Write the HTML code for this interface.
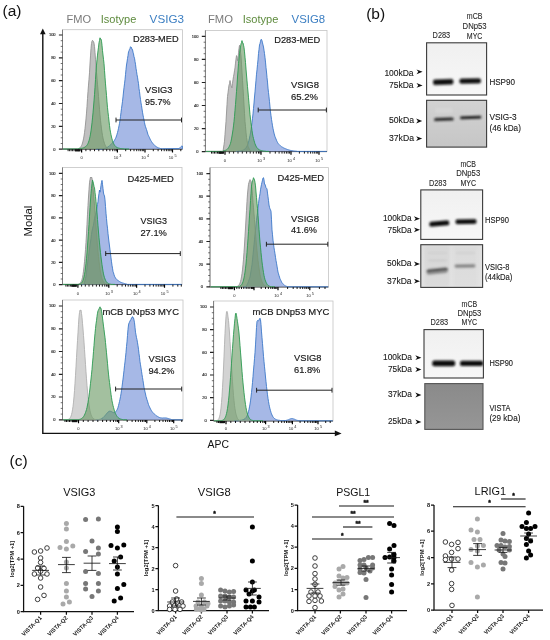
<!DOCTYPE html>
<html lang="en"><head><meta charset="utf-8"><title>Figure</title>
<style>
html,body{margin:0;padding:0;background:#fff;}
svg{display:block;filter:blur(0.3px);font-family:'Liberation Sans', sans-serif;}
</style></head>
<body>
<svg width="550" height="640" viewBox="0 0 550 640">
<defs>
<filter id="bl" x="-20%" y="-100%" width="140%" height="300%"><feGaussianBlur stdDeviation="1.15"/></filter>
<linearGradient id="g1" x1="0" y1="0" x2="0" y2="1"><stop offset="0" stop-color="#f0f0f0"/><stop offset="1" stop-color="#f7f7f7"/></linearGradient>
<linearGradient id="g2" x1="0" y1="0" x2="0" y2="1"><stop offset="0" stop-color="#d2d2d2"/><stop offset="1" stop-color="#c6c6c6"/></linearGradient>
<linearGradient id="g4" x1="0" y1="0" x2="0" y2="1"><stop offset="0" stop-color="#dedede"/><stop offset="1" stop-color="#e2e2e2"/></linearGradient>
<linearGradient id="g6" x1="0" y1="0" x2="0" y2="1"><stop offset="0" stop-color="#8a8a8a"/><stop offset="1" stop-color="#969696"/></linearGradient>
</defs>
<rect width="550" height="640" fill="#fff"/>
<text x="2.5" y="15.9" font-size="15.5" fill="#111">(a)</text>
<text x="66.4" y="23.4" font-size="11.2" fill="#7a7a7a" textLength="24.6" lengthAdjust="spacingAndGlyphs">FMO</text>
<text x="100.7" y="23.4" font-size="11.2" fill="#5d8a3c" textLength="35.6" lengthAdjust="spacingAndGlyphs">Isotype</text>
<text x="149.6" y="23.4" font-size="11.2" fill="#3b7ec2" textLength="34.4" lengthAdjust="spacingAndGlyphs">VSIG3</text>
<text x="208.0" y="23.4" font-size="11.2" fill="#7a7a7a" textLength="25" lengthAdjust="spacingAndGlyphs">FMO</text>
<text x="242.7" y="23.4" font-size="11.2" fill="#5d8a3c" textLength="35.7" lengthAdjust="spacingAndGlyphs">Isotype</text>
<text x="291.6" y="23.4" font-size="11.2" fill="#3b7ec2" textLength="33.6" lengthAdjust="spacingAndGlyphs">VSIG8</text>
<rect x="62.5" y="29.7" width="120.0" height="119.5" fill="#fff" stroke="#c4c4c4" stroke-width="0.8"/>
<path d="M62.5,149.2H182.5" fill="none" stroke="#333" stroke-width="0.9"/>
<path d="M96.0,149.0L103.0,149.0L103.5,148.7L104.0,148.7L104.5,148.5L105.0,148.4L105.5,148.2L106.0,148.1L106.5,147.8L107.0,147.6L107.5,147.2L108.0,146.9L108.5,146.5L109.0,146.2L109.5,145.7L110.0,145.2L110.5,144.8L111.0,144.3L111.5,143.7L112.0,143.2L112.5,142.8L113.0,142.3L113.5,141.7L114.0,141.0L114.5,140.2L115.0,139.3L115.5,138.4L116.0,137.3L116.5,135.9L117.0,134.3L117.5,132.5L118.0,130.6L118.5,128.3L119.0,125.9L119.5,123.4L120.0,120.3L120.5,116.6L121.0,112.4L121.5,108.5L122.0,105.0L122.5,101.3L123.0,96.9L123.5,92.0L124.0,87.7L124.5,83.8L125.0,79.7L125.5,74.7L126.0,69.4L126.5,65.0L127.0,62.0L127.5,58.5L128.0,55.5L128.5,51.9L129.0,50.9L129.5,49.3L130.0,48.5L130.5,46.7L131.0,47.4L131.5,47.5L132.0,49.6L132.5,49.5L133.0,52.2L133.5,53.9L134.0,56.8L134.5,58.2L135.0,61.4L135.5,64.3L136.0,68.3L136.5,71.3L137.0,74.7L137.5,77.2L138.0,80.6L138.5,83.7L139.0,88.5L139.5,91.6L140.0,95.9L140.5,99.4L141.0,102.9L141.5,105.6L142.0,108.9L142.5,112.2L143.0,115.1L143.5,117.5L144.0,120.0L144.5,122.7L145.0,125.0L145.5,126.7L146.0,128.1L146.5,129.5L147.0,131.1L147.5,133.0L148.0,134.6L148.5,135.7L149.0,136.7L149.5,137.7L150.0,138.9L150.5,139.9L151.0,140.8L151.5,141.5L152.0,142.3L152.5,143.0L153.0,143.6L153.5,144.2L154.0,144.8L154.5,145.3L155.0,145.7L155.5,146.1L156.0,146.5L156.5,146.8L157.0,147.1L157.5,147.4L158.0,147.7L158.5,147.9L159.0,148.1L159.5,148.2L160.0,148.3L160.5,148.5L161.0,148.6L161.5,148.6L162.0,148.7L162.5,148.8L179.0,148.6L179.5,148.2L180.0,147.8L180.5,147.2L181.0,146.6L181.5,146.2L182.0,146.0L182.5,146.2L182.2,149.0L182.2,149.0" fill="#6a88d6" fill-opacity="0.6" stroke="#3c78c8" stroke-width="0.9" stroke-linejoin="round"/>
<path d="M63.0,149.0L77.5,149.0L78.0,148.7L78.5,148.6L79.0,148.4L79.5,148.1L80.0,147.8L80.5,147.2L81.0,146.5L81.5,145.6L82.0,144.5L82.5,143.0L83.0,141.1L83.5,138.9L84.0,136.1L84.5,132.7L85.0,128.6L85.5,124.0L86.0,118.9L86.5,113.1L87.0,106.4L87.5,98.6L88.0,91.4L88.5,85.1L89.0,79.2L89.5,72.8L90.0,64.0L90.5,55.9L91.0,48.5L91.5,43.5L92.0,41.2L92.5,40.3L93.0,41.0L93.5,41.5L94.0,43.2L94.5,46.6L95.0,52.4L95.5,59.2L96.0,66.0L96.5,72.3L97.0,78.2L97.5,84.2L98.0,90.0L98.5,96.6L99.0,102.9L99.5,109.3L100.0,114.9L100.5,120.3L101.0,124.6L101.5,128.9L102.0,132.3L102.5,135.5L103.0,138.1L103.5,140.3L104.0,142.0L104.5,143.5L105.0,144.8L105.5,145.9L106.0,146.6L106.5,147.2L107.0,147.7L107.5,148.0L108.0,148.3L108.5,148.5L109.0,148.6L109.5,148.8L110.0,149.0L115.0,149.0" fill="#8c8c8c" fill-opacity="0.55" stroke="#939393" stroke-width="0.9" stroke-linejoin="round"/>
<path d="M63.0,149.0L77.5,149.0L78.0,148.7L78.5,148.7L79.0,148.6L79.5,148.6L80.0,148.5L80.5,148.4L81.0,148.4L81.5,148.3L82.0,148.2L82.5,148.1L83.0,147.9L83.5,147.8L84.0,147.6L84.5,147.3L85.0,147.0L85.5,146.7L86.0,146.2L86.5,145.7L87.0,145.1L87.5,144.4L88.0,143.4L88.5,142.2L89.0,140.7L89.5,138.9L90.0,136.7L90.5,134.1L91.0,130.9L91.5,127.0L92.0,122.8L92.5,117.9L93.0,112.9L93.5,107.0L94.0,100.9L94.5,94.6L95.0,87.3L95.5,79.5L96.0,71.5L96.5,65.1L97.0,59.8L97.5,55.1L98.0,50.9L98.5,47.2L99.0,42.8L99.5,40.5L100.0,37.8L100.5,39.0L101.0,39.0L101.5,41.2L102.0,45.2L102.5,50.7L103.0,55.0L103.5,59.3L104.0,63.5L104.5,70.4L105.0,77.2L105.5,83.9L106.0,89.5L106.5,95.4L107.0,101.8L107.5,107.7L108.0,112.2L108.5,116.5L109.0,121.1L109.5,125.4L110.0,129.2L110.5,132.2L111.0,134.7L111.5,137.0L112.0,138.9L112.5,140.7L113.0,142.1L113.5,143.3L114.0,144.3L114.5,145.1L115.0,145.8L115.5,146.3L116.0,146.8L116.5,147.2L117.0,147.4L117.5,147.7L118.0,147.9L118.5,148.0L119.0,148.2L119.5,148.3L120.0,148.4L120.5,148.5L121.0,148.6L121.5,148.6L122.0,148.7L122.5,148.7L123.0,148.8L123.5,148.8L124.0,149.0L129.0,149.0" fill="#6a9a64" fill-opacity="0.62" stroke="#2a9a50" stroke-width="0.9" stroke-linejoin="round"/>
<path d="M62.5,29.7V149.2" fill="none" stroke="#666" stroke-width="0.8"/>
<path d="M58.9,35.0H62.5M58.9,57.8H62.5M58.9,80.7H62.5M58.9,103.5H62.5M58.9,126.4H62.5M58.9,149.2H62.5" stroke="#222" stroke-width="1.2" fill="none"/>
<path d="M60.7,40.7H62.5M60.7,46.4H62.5M60.7,52.1H62.5M60.7,63.5H62.5M60.7,69.3H62.5M60.7,75.0H62.5M60.7,86.4H62.5M60.7,92.1H62.5M60.7,97.8H62.5M60.7,109.2H62.5M60.7,114.9H62.5M60.7,120.6H62.5M60.7,132.1H62.5M60.7,137.8H62.5M60.7,143.5H62.5" stroke="#333" stroke-width="0.7" fill="none"/>
<text x="55.6" y="36.4" font-size="4.0" fill="#2a2a2a" text-anchor="end" stroke="#2a2a2a" stroke-width="0.15">100</text>
<text x="55.6" y="59.2" font-size="4.0" fill="#2a2a2a" text-anchor="end" stroke="#2a2a2a" stroke-width="0.15">80</text>
<text x="55.6" y="82.1" font-size="4.0" fill="#2a2a2a" text-anchor="end" stroke="#2a2a2a" stroke-width="0.15">60</text>
<text x="55.6" y="104.9" font-size="4.0" fill="#2a2a2a" text-anchor="end" stroke="#2a2a2a" stroke-width="0.15">40</text>
<text x="55.6" y="127.8" font-size="4.0" fill="#2a2a2a" text-anchor="end" stroke="#2a2a2a" stroke-width="0.15">20</text>
<text x="55.6" y="150.6" font-size="4.0" fill="#2a2a2a" text-anchor="end" stroke="#2a2a2a" stroke-width="0.15">0</text>
<path d="M81.6,149.2v3.2M117.4,149.2v3.2M145.0,149.2v3.2M172.5,149.2v3.2" stroke="#000" stroke-width="1.2" fill="none"/>
<path d="M85.9,149.2v2M90.2,149.2v2M94.5,149.2v2M98.8,149.2v2M103.1,149.2v2M106.7,149.2v2M109.9,149.2v2M112.7,149.2v2M114.9,149.2v2M116.3,149.2v2M125.7,149.2v2M130.6,149.2v2M134.0,149.2v2M136.7,149.2v2M138.9,149.2v2M140.7,149.2v2M142.3,149.2v2M143.7,149.2v2M153.3,149.2v2M158.1,149.2v2M161.6,149.2v2M164.2,149.2v2M166.4,149.2v2M168.2,149.2v2M169.8,149.2v2M171.2,149.2v2M180.8,149.2v2M80.1,149.2v2M78.6,149.2v2M77.1,149.2v2M75.6,149.2v2M74.1,149.2v2M72.6,149.2v2M71.1,149.2v2M69.6,149.2v2M68.1,149.2v2" stroke="#000" stroke-width="0.9" fill="none"/>
<rect x="75.1" y="149.2" width="5" height="2.2" fill="#111"/>
<text x="81.6" y="159.3" font-size="4.1" fill="#222" text-anchor="middle">0</text>
<text x="117.6" y="159.3" font-size="4.1" fill="#222" text-anchor="middle">10<tspan dx="1" dy="-2" font-size="3.8">3</tspan></text>
<text x="145.2" y="159.3" font-size="4.1" fill="#222" text-anchor="middle">10<tspan dx="1" dy="-2" font-size="3.8">4</tspan></text>
<text x="172.7" y="159.3" font-size="4.1" fill="#222" text-anchor="middle">10<tspan dx="1" dy="-2" font-size="3.8">5</tspan></text>
<path d="M116,120H181.5M116,117.6v4.8M181.5,117.6v4.8" stroke="#222" stroke-width="1" fill="none"/>
<text x="133.0" y="41.5" font-size="9.5" fill="#1a1a1a" textLength="45.6" lengthAdjust="spacingAndGlyphs" stroke="#1a1a1a" stroke-width="0.18">D283-MED</text>
<text x="145.0" y="93.0" font-size="9.5" fill="#1a1a1a" textLength="27.4" lengthAdjust="spacingAndGlyphs" stroke="#1a1a1a" stroke-width="0.18">VSIG3</text>
<text x="145.0" y="105.0" font-size="9.5" fill="#1a1a1a" textLength="25.6" lengthAdjust="spacingAndGlyphs" stroke="#1a1a1a" stroke-width="0.18">95.7%</text>
<rect x="205.4" y="30.4" width="121.6" height="121.2" fill="#fff" stroke="#c4c4c4" stroke-width="0.8"/>
<path d="M205.4,151.6H327" fill="none" stroke="#333" stroke-width="0.9"/>
<path d="M236.0,151.4L237.5,151.4L238.0,151.2L238.5,151.1L239.0,151.1L239.5,151.0L240.0,151.0L240.5,150.9L241.0,150.8L241.5,150.7L242.0,150.6L242.5,150.4L243.0,150.2L243.5,150.0L244.0,149.7L244.5,149.3L245.0,148.9L245.5,148.4L246.0,147.8L246.5,147.0L247.0,146.1L247.5,145.1L248.0,143.8L248.5,142.2L249.0,140.2L249.5,138.1L250.0,135.6L250.5,132.9L251.0,129.8L251.5,126.4L252.0,122.7L252.5,118.3L253.0,113.8L253.5,108.4L254.0,103.0L254.5,97.0L255.0,91.9L255.5,86.1L256.0,80.2L256.5,74.2L257.0,69.8L257.5,64.6L258.0,59.9L258.5,53.5L259.0,49.5L259.5,45.0L260.0,43.5L260.5,41.3L261.0,39.4L261.5,39.5L262.0,40.8L262.5,42.9L263.0,44.9L263.5,47.0L264.0,50.2L264.5,53.6L265.0,57.6L265.5,62.1L266.0,67.5L266.5,72.0L267.0,77.4L267.5,82.1L268.0,88.1L268.5,92.5L269.0,96.9L269.5,101.7L270.0,106.9L270.5,111.9L271.0,115.6L271.5,119.4L272.0,122.4L272.5,125.8L273.0,128.4L273.5,130.9L274.0,133.1L274.5,135.0L275.0,136.6L275.5,137.9L276.0,139.0L276.5,140.3L277.0,141.4L277.5,142.4L278.0,143.2L278.5,143.9L279.0,144.4L279.5,144.9L280.0,145.4L280.5,145.9L281.0,146.3L281.5,146.7L282.0,147.0L282.5,147.2L283.0,147.5L283.5,147.8L284.0,148.1L284.5,148.3L285.0,148.5L285.5,148.7L286.0,148.9L286.5,149.1L287.0,149.3L287.5,149.5L288.0,149.7L288.5,149.8L289.0,150.0L289.5,150.1L290.0,150.2L290.5,150.4L291.0,150.5L291.5,150.6L292.0,150.7L292.5,150.7L293.0,150.8L293.5,150.9L294.0,151.0L294.5,151.0L295.0,151.1L295.5,151.1L296.0,151.2L296.5,151.2L297.0,151.4L326.7,151.4" fill="#6a88d6" fill-opacity="0.6" stroke="#3c78c8" stroke-width="0.9" stroke-linejoin="round"/>
<path d="M205.9,151.4L223.0,151.4L223.5,148.0L224.0,144.7L224.5,141.2L225.0,134.4L225.5,128.0L226.0,121.6L226.5,113.0L227.0,104.7L227.5,96.5L228.0,92.9L228.5,88.8L229.0,85.2L229.5,83.7L230.0,80.5L230.5,82.8L231.0,85.2L231.5,87.1L232.0,87.9L232.5,83.3L233.0,79.6L233.5,76.6L234.0,74.1L234.5,70.8L235.0,67.9L235.5,63.1L236.0,59.1L236.5,55.6L237.0,56.6L237.5,60.7L238.0,58.8L238.5,52.8L239.0,48.5L239.5,45.3L240.0,47.8L240.5,52.1L241.0,56.0L241.5,64.1L242.0,72.1L242.5,80.4L243.0,88.2L243.5,96.2L244.0,105.0L244.5,113.3L245.0,121.5L245.5,126.7L246.0,132.2L246.5,137.4L247.0,140.3L247.5,143.2L248.0,146.3L248.5,147.3L249.0,148.4L249.5,149.4L250.0,150.4L250.5,150.7L251.0,150.9L251.5,151.1L252.0,151.4L256.0,151.4" fill="#8c8c8c" fill-opacity="0.55" stroke="#939393" stroke-width="0.9" stroke-linejoin="round"/>
<path d="M205.9,151.4L222.5,151.4L223.0,150.9L223.5,150.8L224.0,150.7L224.5,150.6L225.0,150.4L225.5,150.3L226.0,150.0L226.5,149.8L227.0,149.4L227.5,149.0L228.0,148.5L228.5,147.8L229.0,146.9L229.5,145.9L230.0,144.7L230.5,143.3L231.0,141.3L231.5,138.9L232.0,136.0L232.5,133.0L233.0,129.7L233.5,125.9L234.0,121.5L234.5,116.4L235.0,110.3L235.5,104.4L236.0,97.9L236.5,91.4L237.0,85.0L237.5,77.0L238.0,70.9L238.5,63.7L239.0,58.9L239.5,53.6L240.0,49.9L240.5,47.1L241.0,43.9L241.5,42.5L242.0,40.6L242.5,42.9L243.0,42.9L243.5,45.2L244.0,47.4L244.5,51.9L245.0,57.2L245.5,62.4L246.0,69.1L246.5,75.0L247.0,80.8L247.5,86.7L248.0,92.0L248.5,97.8L249.0,103.2L249.5,109.1L250.0,114.5L250.5,119.1L251.0,122.9L251.5,126.8L252.0,130.5L252.5,133.9L253.0,136.4L253.5,138.5L254.0,140.4L254.5,142.2L255.0,143.8L255.5,145.0L256.0,146.1L256.5,147.0L257.0,147.8L257.5,148.3L258.0,148.9L258.5,149.3L259.0,149.7L259.5,149.9L260.0,150.1L260.5,150.3L261.0,150.5L261.5,150.6L262.0,150.8L262.5,150.8L263.0,150.9L263.5,151.0L264.0,151.0L264.5,151.1L265.0,151.1L265.5,151.2L266.0,151.4L269.0,151.4" fill="#6a9a64" fill-opacity="0.62" stroke="#2a9a50" stroke-width="0.9" stroke-linejoin="round"/>
<path d="M205.4,30.4V151.6" fill="none" stroke="#666" stroke-width="0.8"/>
<path d="M201.8,36.4H205.4M201.8,59.4H205.4M201.8,82.5H205.4M201.8,105.5H205.4M201.8,128.6H205.4M201.8,151.6H205.4" stroke="#222" stroke-width="1.2" fill="none"/>
<path d="M203.6,42.2H205.4M203.6,47.9H205.4M203.6,53.7H205.4M203.6,65.2H205.4M203.6,71.0H205.4M203.6,76.7H205.4M203.6,88.2H205.4M203.6,94.0H205.4M203.6,99.8H205.4M203.6,111.3H205.4M203.6,117.0H205.4M203.6,122.8H205.4M203.6,134.3H205.4M203.6,140.1H205.4M203.6,145.8H205.4" stroke="#333" stroke-width="0.7" fill="none"/>
<text x="198.5" y="37.8" font-size="4.0" fill="#2a2a2a" text-anchor="end" stroke="#2a2a2a" stroke-width="0.15">100</text>
<text x="198.5" y="60.8" font-size="4.0" fill="#2a2a2a" text-anchor="end" stroke="#2a2a2a" stroke-width="0.15">80</text>
<text x="198.5" y="83.9" font-size="4.0" fill="#2a2a2a" text-anchor="end" stroke="#2a2a2a" stroke-width="0.15">60</text>
<text x="198.5" y="106.9" font-size="4.0" fill="#2a2a2a" text-anchor="end" stroke="#2a2a2a" stroke-width="0.15">40</text>
<text x="198.5" y="130.0" font-size="4.0" fill="#2a2a2a" text-anchor="end" stroke="#2a2a2a" stroke-width="0.15">20</text>
<text x="198.5" y="153.0" font-size="4.0" fill="#2a2a2a" text-anchor="end" stroke="#2a2a2a" stroke-width="0.15">0</text>
<path d="M225.0,151.6v3.2M261.0,151.6v3.2M291.0,151.6v3.2M319.0,151.6v3.2" stroke="#000" stroke-width="1.2" fill="none"/>
<path d="M229.3,151.6v2M233.6,151.6v2M238.0,151.6v2M242.3,151.6v2M246.6,151.6v2M250.2,151.6v2M253.4,151.6v2M256.3,151.6v2M258.5,151.6v2M259.9,151.6v2M270.0,151.6v2M275.3,151.6v2M279.1,151.6v2M282.0,151.6v2M284.3,151.6v2M286.4,151.6v2M288.1,151.6v2M289.6,151.6v2M299.4,151.6v2M304.4,151.6v2M307.9,151.6v2M310.6,151.6v2M312.8,151.6v2M314.7,151.6v2M316.3,151.6v2M317.7,151.6v2M223.5,151.6v2M222.0,151.6v2M220.5,151.6v2M219.0,151.6v2M217.5,151.6v2M216.0,151.6v2M214.5,151.6v2M213.0,151.6v2M211.5,151.6v2" stroke="#000" stroke-width="0.9" fill="none"/>
<rect x="218.5" y="151.6" width="5" height="2.2" fill="#111"/>
<text x="225.0" y="161.8" font-size="4.1" fill="#222" text-anchor="middle">0</text>
<text x="261.2" y="161.8" font-size="4.1" fill="#222" text-anchor="middle">10<tspan dx="1" dy="-2" font-size="3.8">3</tspan></text>
<text x="291.2" y="161.8" font-size="4.1" fill="#222" text-anchor="middle">10<tspan dx="1" dy="-2" font-size="3.8">4</tspan></text>
<text x="319.2" y="161.8" font-size="4.1" fill="#222" text-anchor="middle">10<tspan dx="1" dy="-2" font-size="3.8">5</tspan></text>
<path d="M258.2,110H326.4M258.2,107.6v4.8M326.4,107.6v4.8" stroke="#222" stroke-width="1" fill="none"/>
<text x="274.2" y="43.4" font-size="9.5" fill="#1a1a1a" textLength="46" lengthAdjust="spacingAndGlyphs" stroke="#1a1a1a" stroke-width="0.18">D283-MED</text>
<text x="291.0" y="88.0" font-size="9.5" fill="#1a1a1a" textLength="28" lengthAdjust="spacingAndGlyphs" stroke="#1a1a1a" stroke-width="0.18">VSIG8</text>
<text x="291.0" y="99.6" font-size="9.5" fill="#1a1a1a" textLength="27" lengthAdjust="spacingAndGlyphs" stroke="#1a1a1a" stroke-width="0.18">65.2%</text>
<rect x="62.5" y="167.5" width="119.5" height="117.1" fill="#fff" stroke="#c4c4c4" stroke-width="0.8"/>
<path d="M62.5,284.6H182" fill="none" stroke="#333" stroke-width="0.9"/>
<path d="M81.0,284.4L84.0,284.4L84.5,282.4L85.0,280.4L85.5,278.4L86.0,276.4L86.5,272.3L87.0,268.1L87.5,264.0L88.0,260.0L88.5,256.5L89.0,252.7L89.5,248.9L90.0,244.9L90.5,242.0L91.0,238.3L91.5,234.4L92.0,231.1L92.5,228.8L93.0,226.7L93.5,225.2L94.0,221.5L94.5,218.8L95.0,216.1L95.5,214.9L96.0,212.4L96.5,210.2L97.0,207.2L97.5,204.5L98.0,201.6L98.5,197.0L99.0,193.4L99.5,190.0L100.0,192.2L100.5,189.5L101.0,185.4L101.5,182.4L102.0,180.4L102.5,184.3L103.0,188.6L103.5,193.0L104.0,194.9L104.5,196.0L105.0,199.8L105.5,206.4L106.0,213.2L106.5,218.6L107.0,224.1L107.5,228.2L108.0,233.4L108.5,238.0L109.0,242.0L109.5,246.0L110.0,249.8L110.5,253.9L111.0,257.8L111.5,261.8L112.0,265.3L112.5,268.2L113.0,271.4L113.5,272.8L114.0,274.6L114.5,276.2L115.0,277.1L115.5,277.9L116.0,278.8L116.5,279.3L117.0,279.7L117.5,280.1L118.0,280.4L118.5,280.8L119.0,281.1L119.5,281.5L120.0,281.9L120.5,282.1L121.0,282.2L121.5,282.5L122.0,282.7L122.5,282.9L123.0,283.1L123.5,283.2L124.0,283.4L124.5,283.5L125.0,283.6L125.5,283.8L126.0,283.9L126.5,284.0L127.0,284.1L127.5,284.4L181.7,284.4" fill="#6a88d6" fill-opacity="0.6" stroke="#3c78c8" stroke-width="0.9" stroke-linejoin="round"/>
<path d="M63.0,284.4L78.0,284.4L78.5,284.1L79.0,283.9L79.5,283.7L80.0,283.3L80.5,282.7L81.0,281.9L81.5,280.8L82.0,279.4L82.5,277.4L83.0,274.7L83.5,271.1L84.0,266.8L84.5,261.7L85.0,255.8L85.5,249.5L86.0,242.4L86.5,233.9L87.0,224.3L87.5,214.2L88.0,205.5L88.5,197.0L89.0,189.7L89.5,182.8L90.0,179.4L90.5,177.1L91.0,177.8L91.5,177.0L92.0,178.3L92.5,181.7L93.0,187.7L93.5,194.2L94.0,199.9L94.5,205.2L95.0,211.8L95.5,218.3L96.0,226.0L96.5,232.8L97.0,240.0L97.5,245.9L98.0,251.7L98.5,256.5L99.0,261.1L99.5,265.3L100.0,269.1L100.5,272.2L101.0,274.6L101.5,276.7L102.0,278.5L102.5,279.9L103.0,281.0L103.5,281.9L104.0,282.5L104.5,283.0L105.0,283.4L105.5,283.7L106.0,283.9L106.5,284.1L107.0,284.2L107.5,284.4L113.0,284.4" fill="#8c8c8c" fill-opacity="0.55" stroke="#939393" stroke-width="0.9" stroke-linejoin="round"/>
<path d="M63.0,284.4L79.0,284.4L79.5,284.1L80.0,284.0L80.5,283.8L81.0,283.4L81.5,283.0L82.0,282.4L82.5,281.6L83.0,280.4L83.5,278.9L84.0,277.0L84.5,274.6L85.0,271.7L85.5,267.9L86.0,263.5L86.5,258.7L87.0,253.0L87.5,245.9L88.0,239.0L88.5,231.6L89.0,224.4L89.5,216.2L90.0,207.6L90.5,200.0L91.0,193.4L91.5,188.4L92.0,183.4L92.5,180.1L93.0,181.6L93.5,183.9L94.0,186.4L94.5,187.8L95.0,192.4L95.5,196.7L96.0,201.5L96.5,206.9L97.0,212.9L97.5,219.5L98.0,225.7L98.5,232.0L99.0,237.7L99.5,242.9L100.0,248.0L100.5,252.6L101.0,256.9L101.5,261.0L102.0,264.7L102.5,268.1L103.0,271.2L103.5,273.9L104.0,276.0L104.5,277.6L105.0,279.0L105.5,280.2L106.0,281.2L106.5,281.9L107.0,282.5L107.5,283.0L108.0,283.4L108.5,283.6L109.0,283.8L109.5,284.0L110.0,284.1L110.5,284.2L111.0,284.4L115.0,284.4" fill="#6a9a64" fill-opacity="0.62" stroke="#2a9a50" stroke-width="0.9" stroke-linejoin="round"/>
<path d="M62.5,167.5V284.6" fill="none" stroke="#666" stroke-width="0.8"/>
<path d="M58.9,173.4H62.5M58.9,195.6H62.5M58.9,217.9H62.5M58.9,240.1H62.5M58.9,262.4H62.5M58.9,284.6H62.5" stroke="#222" stroke-width="1.2" fill="none"/>
<path d="M60.7,179.0H62.5M60.7,184.5H62.5M60.7,190.1H62.5M60.7,201.2H62.5M60.7,206.8H62.5M60.7,212.3H62.5M60.7,223.4H62.5M60.7,229.0H62.5M60.7,234.6H62.5M60.7,245.7H62.5M60.7,251.2H62.5M60.7,256.8H62.5M60.7,267.9H62.5M60.7,273.5H62.5M60.7,279.0H62.5" stroke="#333" stroke-width="0.7" fill="none"/>
<text x="55.6" y="174.8" font-size="4.0" fill="#2a2a2a" text-anchor="end" stroke="#2a2a2a" stroke-width="0.15">100</text>
<text x="55.6" y="197.0" font-size="4.0" fill="#2a2a2a" text-anchor="end" stroke="#2a2a2a" stroke-width="0.15">80</text>
<text x="55.6" y="219.3" font-size="4.0" fill="#2a2a2a" text-anchor="end" stroke="#2a2a2a" stroke-width="0.15">60</text>
<text x="55.6" y="241.5" font-size="4.0" fill="#2a2a2a" text-anchor="end" stroke="#2a2a2a" stroke-width="0.15">40</text>
<text x="55.6" y="263.8" font-size="4.0" fill="#2a2a2a" text-anchor="end" stroke="#2a2a2a" stroke-width="0.15">20</text>
<text x="55.6" y="286.0" font-size="4.0" fill="#2a2a2a" text-anchor="end" stroke="#2a2a2a" stroke-width="0.15">0</text>
<path d="M77.9,284.6v3.2M108.8,284.6v3.2M136.6,284.6v3.2M164.5,284.6v3.2" stroke="#000" stroke-width="1.2" fill="none"/>
<path d="M81.6,284.6v2M85.3,284.6v2M89.0,284.6v2M92.7,284.6v2M96.4,284.6v2M99.5,284.6v2M102.3,284.6v2M104.8,284.6v2M106.6,284.6v2M107.9,284.6v2M117.2,284.6v2M122.1,284.6v2M125.5,284.6v2M128.2,284.6v2M130.4,284.6v2M132.3,284.6v2M133.9,284.6v2M135.3,284.6v2M145.0,284.6v2M149.9,284.6v2M153.4,284.6v2M156.1,284.6v2M158.3,284.6v2M160.2,284.6v2M161.8,284.6v2M163.2,284.6v2M172.9,284.6v2M177.8,284.6v2M181.3,284.6v2M76.4,284.6v2M74.9,284.6v2M73.4,284.6v2M71.9,284.6v2M70.4,284.6v2M68.9,284.6v2M67.4,284.6v2M65.9,284.6v2" stroke="#000" stroke-width="0.9" fill="none"/>
<rect x="71.4" y="284.6" width="5" height="2.2" fill="#111"/>
<text x="77.9" y="294.6" font-size="4.1" fill="#222" text-anchor="middle">0</text>
<text x="109.0" y="294.6" font-size="4.1" fill="#222" text-anchor="middle">10<tspan dx="1" dy="-2" font-size="3.8">3</tspan></text>
<text x="136.8" y="294.6" font-size="4.1" fill="#222" text-anchor="middle">10<tspan dx="1" dy="-2" font-size="3.8">4</tspan></text>
<text x="164.7" y="294.6" font-size="4.1" fill="#222" text-anchor="middle">10<tspan dx="1" dy="-2" font-size="3.8">5</tspan></text>
<path d="M105.7,253.6H180.3M105.7,251.2v4.8M180.3,251.2v4.8" stroke="#222" stroke-width="1" fill="none"/>
<text x="127.4" y="181.8" font-size="9.5" fill="#1a1a1a" textLength="46.5" lengthAdjust="spacingAndGlyphs" stroke="#1a1a1a" stroke-width="0.18">D425-MED</text>
<text x="140.4" y="224.2" font-size="9.5" fill="#1a1a1a" textLength="26.5" lengthAdjust="spacingAndGlyphs" stroke="#1a1a1a" stroke-width="0.18">VSIG3</text>
<text x="140.4" y="235.6" font-size="9.5" fill="#1a1a1a" textLength="26.5" lengthAdjust="spacingAndGlyphs" stroke="#1a1a1a" stroke-width="0.18">27.1%</text>
<rect x="210" y="167.6" width="118.4" height="119.4" fill="#fff" stroke="#c4c4c4" stroke-width="0.8"/>
<path d="M210,287H328.4" fill="none" stroke="#333" stroke-width="0.9"/>
<path d="M243.0,286.8L246.0,286.8L246.5,285.8L247.0,284.8L247.5,283.8L248.0,282.8L248.5,281.4L249.0,279.9L249.5,278.4L250.0,277.0L250.5,274.0L251.0,271.0L251.5,267.8L252.0,264.8L252.5,259.9L253.0,254.7L253.5,249.9L254.0,244.7L254.5,239.8L255.0,234.4L255.5,230.2L256.0,224.9L256.5,220.4L257.0,216.0L257.5,212.9L258.0,207.6L258.5,203.7L259.0,199.4L259.5,196.6L260.0,193.7L260.5,189.8L261.0,187.0L261.5,184.4L262.0,182.2L262.5,180.2L263.0,178.0L263.5,177.7L264.0,179.9L264.5,184.1L265.0,184.2L265.5,186.0L266.0,187.7L266.5,188.2L267.0,189.1L267.5,193.1L268.0,196.7L268.5,200.7L269.0,205.0L269.5,207.3L270.0,208.9L270.5,209.9L271.0,211.2L271.5,219.8L272.0,229.9L272.5,234.8L273.0,240.2L273.5,244.0L274.0,247.8L274.5,250.7L275.0,253.8L275.5,257.3L276.0,260.5L276.5,263.2L277.0,266.1L277.5,269.2L278.0,272.1L278.5,273.8L279.0,275.5L279.5,277.1L280.0,278.7L280.5,279.7L281.0,280.8L281.5,281.8L282.0,282.8L282.5,283.3L283.0,283.8L283.5,284.3L284.0,284.8L284.5,285.3L285.0,285.8L285.5,286.0L286.0,286.1L286.5,286.3L287.0,286.5L287.5,286.8L328.1,286.8" fill="#6a88d6" fill-opacity="0.6" stroke="#3c78c8" stroke-width="0.9" stroke-linejoin="round"/>
<path d="M210.5,286.8L236.0,286.8L236.5,286.6L237.0,286.5L237.5,286.3L238.0,286.0L238.5,285.6L239.0,285.0L239.5,284.2L240.0,283.1L240.5,281.5L241.0,279.5L241.5,276.9L242.0,273.6L242.5,269.9L243.0,264.7L243.5,259.2L244.0,252.4L244.5,245.0L245.0,236.2L245.5,228.0L246.0,219.0L246.5,210.3L247.0,201.5L247.5,194.1L248.0,188.9L248.5,184.3L249.0,182.4L249.5,180.9L250.0,179.6L250.5,180.3L251.0,181.2L251.5,184.5L252.0,189.3L252.5,195.4L253.0,202.5L253.5,207.8L254.0,213.9L254.5,219.6L255.0,226.8L255.5,233.2L256.0,239.9L256.5,245.1L257.0,250.7L257.5,255.9L258.0,260.4L258.5,264.4L259.0,268.1L259.5,271.4L260.0,274.4L260.5,276.7L261.0,278.8L261.5,280.4L262.0,281.8L262.5,283.0L263.0,283.9L263.5,284.6L264.0,285.1L264.5,285.5L265.0,285.9L265.5,286.1L266.0,286.3L266.5,286.4L267.0,286.6L267.5,286.8L273.0,286.8" fill="#8c8c8c" fill-opacity="0.55" stroke="#939393" stroke-width="0.9" stroke-linejoin="round"/>
<path d="M210.5,286.8L238.0,286.8L238.5,286.6L239.0,286.5L239.5,286.3L240.0,286.1L240.5,285.8L241.0,285.4L241.5,284.8L242.0,284.1L242.5,283.1L243.0,281.8L243.5,280.1L244.0,277.9L244.5,275.3L245.0,272.1L245.5,268.2L246.0,264.0L246.5,258.4L247.0,252.5L247.5,245.8L248.0,238.8L248.5,231.4L249.0,223.7L249.5,215.9L250.0,209.2L250.5,200.5L251.0,193.8L251.5,186.1L252.0,183.2L252.5,180.6L253.0,179.5L253.5,177.7L254.0,178.8L254.5,180.0L255.0,182.3L255.5,185.9L256.0,192.0L256.5,197.6L257.0,203.2L257.5,208.5L258.0,215.3L258.5,221.9L259.0,229.3L259.5,236.1L260.0,242.1L260.5,247.2L261.0,252.4L261.5,257.2L262.0,261.9L262.5,265.7L263.0,269.3L263.5,272.5L264.0,275.4L264.5,277.7L265.0,279.6L265.5,281.0L266.0,282.2L266.5,283.2L267.0,284.1L267.5,284.8L268.0,285.3L268.5,285.7L269.0,286.0L269.5,286.2L270.0,286.4L270.5,286.5L271.0,286.6L271.5,286.8L275.0,286.8" fill="#6a9a64" fill-opacity="0.62" stroke="#2a9a50" stroke-width="0.9" stroke-linejoin="round"/>
<path d="M210,167.6V287" fill="none" stroke="#666" stroke-width="0.8"/>
<path d="M206.4,173.6H210M206.4,196.2H210M206.4,218.9H210M206.4,241.5H210M206.4,264.2H210M206.4,286.8H210" stroke="#222" stroke-width="1.2" fill="none"/>
<path d="M208.2,179.3H210M208.2,184.9H210M208.2,190.6H210M208.2,201.9H210M208.2,207.6H210M208.2,213.2H210M208.2,224.5H210M208.2,230.2H210M208.2,235.9H210M208.2,247.2H210M208.2,252.8H210M208.2,258.5H210M208.2,269.8H210M208.2,275.5H210M208.2,281.1H210" stroke="#333" stroke-width="0.7" fill="none"/>
<text x="203.1" y="175.0" font-size="4.0" fill="#2a2a2a" text-anchor="end" stroke="#2a2a2a" stroke-width="0.15">100</text>
<text x="203.1" y="197.6" font-size="4.0" fill="#2a2a2a" text-anchor="end" stroke="#2a2a2a" stroke-width="0.15">80</text>
<text x="203.1" y="220.3" font-size="4.0" fill="#2a2a2a" text-anchor="end" stroke="#2a2a2a" stroke-width="0.15">60</text>
<text x="203.1" y="242.9" font-size="4.0" fill="#2a2a2a" text-anchor="end" stroke="#2a2a2a" stroke-width="0.15">40</text>
<text x="203.1" y="265.6" font-size="4.0" fill="#2a2a2a" text-anchor="end" stroke="#2a2a2a" stroke-width="0.15">20</text>
<text x="203.1" y="288.2" font-size="4.0" fill="#2a2a2a" text-anchor="end" stroke="#2a2a2a" stroke-width="0.15">0</text>
<path d="M234.4,287v3.2M254.0,287v3.2M278.0,287v3.2M309.8,287v3.2" stroke="#000" stroke-width="1.2" fill="none"/>
<path d="M236.8,287v2M239.1,287v2M241.5,287v2M243.8,287v2M246.2,287v2M248.1,287v2M249.9,287v2M251.5,287v2M252.6,287v2M253.4,287v2M261.2,287v2M265.5,287v2M268.4,287v2M270.8,287v2M272.7,287v2M274.3,287v2M275.7,287v2M276.9,287v2M287.6,287v2M293.2,287v2M297.1,287v2M300.2,287v2M302.7,287v2M304.9,287v2M306.7,287v2M308.3,287v2M319.4,287v2M325.0,287v2M232.9,287v2M231.4,287v2M229.9,287v2M228.4,287v2M226.9,287v2M225.4,287v2M223.9,287v2M222.4,287v2M220.9,287v2" stroke="#000" stroke-width="0.9" fill="none"/>
<rect x="227.9" y="287" width="5" height="2.2" fill="#111"/>
<text x="234.4" y="296.6" font-size="4.1" fill="#222" text-anchor="middle">0</text>
<text x="278.2" y="296.6" font-size="4.1" fill="#222" text-anchor="middle">10<tspan dx="1" dy="-2" font-size="3.8">4</tspan></text>
<text x="310.0" y="296.6" font-size="4.1" fill="#222" text-anchor="middle">10<tspan dx="1" dy="-2" font-size="3.8">5</tspan></text>
<path d="M266.4,244.2H327.8M266.4,241.79999999999998v4.8M327.8,241.79999999999998v4.8" stroke="#222" stroke-width="1" fill="none"/>
<text x="277.6" y="181.4" font-size="9.5" fill="#1a1a1a" textLength="46.4" lengthAdjust="spacingAndGlyphs" stroke="#1a1a1a" stroke-width="0.18">D425-MED</text>
<text x="291.0" y="221.6" font-size="9.5" fill="#1a1a1a" textLength="28" lengthAdjust="spacingAndGlyphs" stroke="#1a1a1a" stroke-width="0.18">VSIG8</text>
<text x="291.0" y="233.0" font-size="9.5" fill="#1a1a1a" textLength="26" lengthAdjust="spacingAndGlyphs" stroke="#1a1a1a" stroke-width="0.18">41.6%</text>
<rect x="62.5" y="300" width="120.5" height="120.0" fill="#fff" stroke="#c4c4c4" stroke-width="0.8"/>
<path d="M62.5,420H183" fill="none" stroke="#333" stroke-width="0.9"/>
<path d="M96.0,419.8L98.5,419.8L99.0,419.5L99.5,419.4L100.0,419.3L100.5,419.2L101.0,419.0L101.5,418.7L102.0,418.4L102.5,418.1L103.0,417.7L103.5,417.2L104.0,416.7L104.5,416.2L105.0,415.6L105.5,415.0L106.0,414.4L106.5,413.8L107.0,413.1L107.5,412.6L108.0,412.1L108.5,411.7L109.0,411.3L109.5,411.2L110.0,411.2L110.5,411.3L111.0,411.4L111.5,411.6L112.0,411.9L112.5,412.2L113.0,412.4L113.5,412.6L114.0,412.7L114.5,412.7L115.0,412.5L115.5,412.0L116.0,411.4L116.5,410.7L117.0,409.9L117.5,408.9L118.0,407.4L118.5,405.6L119.0,403.5L119.5,401.5L120.0,399.2L120.5,396.7L121.0,393.8L121.5,390.3L122.0,386.8L122.5,382.9L123.0,379.1L123.5,374.9L124.0,370.5L124.5,365.8L125.0,361.9L125.5,357.2L126.0,352.5L126.5,346.5L127.0,341.8L127.5,335.4L128.0,329.3L128.5,325.0L129.0,323.0L129.5,322.2L130.0,321.0L130.5,320.0L131.0,319.4L131.5,317.9L132.0,318.0L132.5,316.6L133.0,317.9L133.5,317.9L134.0,320.0L134.5,322.8L135.0,327.4L135.5,332.2L136.0,334.9L136.5,337.7L137.0,339.7L137.5,342.8L138.0,345.7L138.5,349.3L139.0,353.6L139.5,357.3L140.0,361.7L140.5,364.8L141.0,367.9L141.5,371.3L142.0,374.5L142.5,377.6L143.0,380.6L143.5,383.9L144.0,387.3L144.5,389.5L145.0,392.0L145.5,394.0L146.0,396.4L146.5,398.0L147.0,399.8L147.5,401.2L148.0,403.0L148.5,404.5L149.0,405.9L149.5,406.8L150.0,408.0L150.5,409.0L151.0,409.9L151.5,410.8L152.0,411.5L152.5,412.1L153.0,412.7L153.5,413.2L154.0,413.7L154.5,414.2L155.0,414.6L155.5,415.1L156.0,415.4L156.5,415.8L157.0,416.2L157.5,416.4L158.0,416.7L158.5,417.0L159.0,417.3L159.5,417.5L160.0,417.6L160.5,417.8L161.0,417.9L161.5,417.9L162.0,418.0L162.5,418.0L163.0,418.0L163.5,417.9L164.0,417.9L164.5,417.9L165.0,417.9L165.5,417.9L166.0,417.9L166.5,418.0L167.0,418.1L167.5,418.3L168.0,418.4L168.5,418.6L169.0,418.8L169.5,418.9L170.0,419.1L170.5,419.2L171.0,419.4L171.5,419.5L172.0,419.6L172.5,419.8L182.7,419.8" fill="#6a88d6" fill-opacity="0.6" stroke="#3c78c8" stroke-width="0.9" stroke-linejoin="round"/>
<path d="M63.0,419.8L67.5,419.8L68.0,419.5L68.5,419.3L69.0,419.1L69.5,418.7L70.0,418.1L70.5,417.3L71.0,416.2L71.5,414.6L72.0,412.6L72.5,409.8L73.0,406.5L73.5,402.1L74.0,396.8L74.5,390.5L75.0,383.3L75.5,375.3L76.0,366.8L76.5,357.6L77.0,348.8L77.5,340.6L78.0,332.8L78.5,324.3L79.0,316.9L79.5,312.6L80.0,310.0L80.5,310.3L81.0,310.0L81.5,313.5L82.0,317.3L82.5,323.3L83.0,329.0L83.5,335.5L84.0,342.1L84.5,349.6L85.0,356.9L85.5,364.3L86.0,371.9L86.5,378.8L87.0,385.5L87.5,391.1L88.0,396.4L88.5,400.7L89.0,404.8L89.5,408.1L90.0,410.8L90.5,412.9L91.0,414.6L91.5,415.9L92.0,416.9L92.5,417.7L93.0,418.3L93.5,418.7L94.0,419.1L94.5,419.3L95.0,419.4L95.5,419.6L96.0,419.8L102.0,419.8" fill="#a8a8a8" fill-opacity="0.5" stroke="#b0b0b0" stroke-width="0.9" stroke-linejoin="round"/>
<path d="M63.0,419.8L78.0,419.8L78.5,419.6L79.0,419.5L79.5,419.4L80.0,419.3L80.5,419.1L81.0,418.9L81.5,418.6L82.0,418.2L82.5,417.8L83.0,417.3L83.5,416.7L84.0,415.9L84.5,415.0L85.0,413.8L85.5,412.5L86.0,411.1L86.5,409.5L87.0,407.5L87.5,405.0L88.0,402.4L88.5,399.3L89.0,396.2L89.5,392.2L90.0,388.0L90.5,383.3L91.0,379.0L91.5,374.2L92.0,369.3L92.5,363.1L93.0,357.8L93.5,351.4L94.0,345.4L94.5,339.0L95.0,333.5L95.5,328.5L96.0,323.9L96.5,320.7L97.0,316.4L97.5,313.2L98.0,310.8L98.5,310.1L99.0,308.9L99.5,307.9L100.0,306.8L100.5,308.4L101.0,308.2L101.5,311.2L102.0,313.7L102.5,318.1L103.0,321.9L103.5,326.1L104.0,329.6L104.5,334.0L105.0,337.4L105.5,342.5L106.0,347.5L106.5,352.8L107.0,358.0L107.5,363.3L108.0,368.9L108.5,374.1L109.0,378.5L109.5,382.5L110.0,386.4L110.5,390.2L111.0,394.3L111.5,397.7L112.0,400.9L112.5,403.2L113.0,405.5L113.5,407.4L114.0,409.2L114.5,410.9L115.0,412.3L115.5,413.6L116.0,414.6L116.5,415.5L117.0,416.3L117.5,416.9L118.0,417.5L118.5,417.9L119.0,418.3L119.5,418.6L120.0,418.8L120.5,419.0L121.0,419.2L121.5,419.3L122.0,419.4L122.5,419.5L123.0,419.6L123.5,419.8L127.0,419.8" fill="#6a9a64" fill-opacity="0.62" stroke="#2a9a50" stroke-width="0.9" stroke-linejoin="round"/>
<path d="M62.5,300V420" fill="none" stroke="#666" stroke-width="0.8"/>
<path d="M58.9,306.0H62.5M58.9,328.8H62.5M58.9,351.5H62.5M58.9,374.3H62.5M58.9,397.0H62.5M58.9,419.8H62.5" stroke="#222" stroke-width="1.2" fill="none"/>
<path d="M60.7,311.7H62.5M60.7,317.4H62.5M60.7,323.1H62.5M60.7,334.4H62.5M60.7,340.1H62.5M60.7,345.8H62.5M60.7,357.2H62.5M60.7,362.9H62.5M60.7,368.6H62.5M60.7,380.0H62.5M60.7,385.7H62.5M60.7,391.3H62.5M60.7,402.7H62.5M60.7,408.4H62.5M60.7,414.1H62.5" stroke="#333" stroke-width="0.7" fill="none"/>
<text x="55.6" y="307.4" font-size="4.0" fill="#2a2a2a" text-anchor="end" stroke="#2a2a2a" stroke-width="0.15">100</text>
<text x="55.6" y="330.2" font-size="4.0" fill="#2a2a2a" text-anchor="end" stroke="#2a2a2a" stroke-width="0.15">80</text>
<text x="55.6" y="352.9" font-size="4.0" fill="#2a2a2a" text-anchor="end" stroke="#2a2a2a" stroke-width="0.15">60</text>
<text x="55.6" y="375.7" font-size="4.0" fill="#2a2a2a" text-anchor="end" stroke="#2a2a2a" stroke-width="0.15">40</text>
<text x="55.6" y="398.4" font-size="4.0" fill="#2a2a2a" text-anchor="end" stroke="#2a2a2a" stroke-width="0.15">20</text>
<text x="55.6" y="421.2" font-size="4.0" fill="#2a2a2a" text-anchor="end" stroke="#2a2a2a" stroke-width="0.15">0</text>
<path d="M78.5,420v3.2M118.7,420v3.2M146.8,420v3.2M173.7,420v3.2" stroke="#000" stroke-width="1.2" fill="none"/>
<path d="M83.3,420v2M88.1,420v2M93.0,420v2M97.8,420v2M102.6,420v2M106.6,420v2M110.3,420v2M113.5,420v2M115.9,420v2M117.5,420v2M127.2,420v2M132.1,420v2M135.6,420v2M138.3,420v2M140.6,420v2M142.4,420v2M144.1,420v2M145.5,420v2M154.9,420v2M159.6,420v2M163.0,420v2M165.6,420v2M167.7,420v2M169.5,420v2M171.1,420v2M172.5,420v2M181.8,420v2M77.0,420v2M75.5,420v2M74.0,420v2M72.5,420v2M71.0,420v2M69.5,420v2M68.0,420v2M66.5,420v2M65.0,420v2" stroke="#000" stroke-width="0.9" fill="none"/>
<rect x="72.0" y="420" width="5" height="2.2" fill="#111"/>
<text x="78.5" y="430.0" font-size="4.1" fill="#222" text-anchor="middle">0</text>
<text x="118.9" y="430.0" font-size="4.1" fill="#222" text-anchor="middle">10<tspan dx="1" dy="-2" font-size="3.8">3</tspan></text>
<text x="147.0" y="430.0" font-size="4.1" fill="#222" text-anchor="middle">10<tspan dx="1" dy="-2" font-size="3.8">4</tspan></text>
<text x="173.9" y="430.0" font-size="4.1" fill="#222" text-anchor="middle">10<tspan dx="1" dy="-2" font-size="3.8">5</tspan></text>
<path d="M115.6,389H181.7M115.6,386.6v4.8M181.7,386.6v4.8" stroke="#222" stroke-width="1" fill="none"/>
<text x="102.4" y="315.0" font-size="9.5" fill="#1a1a1a" textLength="76.6" lengthAdjust="spacingAndGlyphs" stroke="#1a1a1a" stroke-width="0.18">mCB DNp53 MYC</text>
<text x="148.4" y="362.4" font-size="9.5" fill="#1a1a1a" textLength="27.6" lengthAdjust="spacingAndGlyphs" stroke="#1a1a1a" stroke-width="0.18">VSIG3</text>
<text x="148.4" y="374.0" font-size="9.5" fill="#1a1a1a" textLength="26" lengthAdjust="spacingAndGlyphs" stroke="#1a1a1a" stroke-width="0.18">94.2%</text>
<rect x="213.6" y="301" width="119.4" height="120.0" fill="#fff" stroke="#c4c4c4" stroke-width="0.8"/>
<path d="M213.6,421H333" fill="none" stroke="#333" stroke-width="0.9"/>
<path d="M234.0,420.8L237.5,420.8L238.0,420.6L238.5,420.6L239.0,420.5L239.5,420.5L240.0,420.4L240.5,420.3L241.0,420.3L241.5,420.2L242.0,420.1L242.5,419.9L243.0,419.8L243.5,419.5L244.0,419.3L244.5,419.0L245.0,418.7L245.5,418.2L246.0,417.6L246.5,416.8L247.0,415.8L247.5,414.7L248.0,413.3L248.5,411.6L249.0,409.4L249.5,406.9L250.0,404.1L250.5,400.9L251.0,396.9L251.5,392.5L252.0,387.8L252.5,382.5L253.0,376.5L253.5,370.1L254.0,364.6L254.5,358.6L255.0,352.7L255.5,344.9L256.0,336.2L256.5,327.4L257.0,321.4L257.5,320.5L258.0,321.1L258.5,320.9L259.0,320.1L259.5,318.8L260.0,318.2L260.5,319.8L261.0,324.5L261.5,331.9L262.0,337.7L262.5,343.7L263.0,349.7L263.5,356.3L264.0,361.5L264.5,366.8L265.0,371.4L265.5,377.0L266.0,381.6L266.5,386.5L267.0,390.6L267.5,394.8L268.0,398.4L268.5,401.6L269.0,404.4L269.5,406.8L270.0,408.9L270.5,410.7L271.0,412.4L271.5,413.8L272.0,415.0L272.5,416.0L273.0,416.9L273.5,417.6L274.0,418.1L274.5,418.5L275.0,418.9L275.5,419.2L276.0,419.5L276.5,419.7L277.0,419.8L277.5,420.0L278.0,420.1L278.5,420.2L279.0,420.3L279.5,420.3L280.0,420.4L280.5,420.5L281.0,420.5L281.5,420.5L282.0,420.6L282.5,420.6L285.0,420.6L285.5,420.5L286.0,420.4L286.5,420.3L287.0,420.2L287.5,420.0L288.0,419.9L288.5,419.7L289.0,419.4L289.5,419.2L290.0,419.0L290.5,418.8L291.0,418.7L291.5,418.6L292.0,418.6L292.5,418.6L293.0,418.7L293.5,418.9L294.0,419.0L294.5,419.2L295.0,419.5L295.5,419.7L296.0,419.9L296.5,420.1L297.0,420.3L297.5,420.4L298.0,420.5L298.5,420.6L299.0,420.8L332.7,420.8" fill="#6a88d6" fill-opacity="0.6" stroke="#3c78c8" stroke-width="0.9" stroke-linejoin="round"/>
<path d="M214.1,420.8L216.5,420.8L217.0,420.5L217.5,420.3L218.0,419.9L218.5,419.3L219.0,418.3L219.5,416.9L220.0,414.8L220.5,411.9L221.0,408.1L221.5,402.6L222.0,396.2L222.5,387.7L223.0,378.8L223.5,368.0L224.0,356.9L224.5,344.8L225.0,333.5L225.5,324.1L226.0,316.8L226.5,311.9L227.0,311.3L227.5,312.9L228.0,317.0L228.5,320.4L229.0,326.3L229.5,333.0L230.0,341.4L230.5,348.9L231.0,357.8L231.5,365.7L232.0,374.1L232.5,381.8L233.0,388.9L233.5,395.5L234.0,400.6L234.5,405.3L235.0,408.9L235.5,411.9L236.0,414.2L236.5,415.9L237.0,417.3L237.5,418.4L238.0,419.1L238.5,419.7L239.0,420.1L239.5,420.3L240.0,420.5L240.5,420.8L249.0,420.8" fill="#a8a8a8" fill-opacity="0.5" stroke="#b0b0b0" stroke-width="0.9" stroke-linejoin="round"/>
<path d="M214.1,420.8L221.0,420.8L221.5,420.6L222.0,420.5L222.5,420.3L223.0,420.1L223.5,419.8L224.0,419.3L224.5,418.7L225.0,417.9L225.5,416.9L226.0,415.4L226.5,413.6L227.0,411.3L227.5,408.4L228.0,405.0L228.5,400.6L229.0,395.9L229.5,390.1L230.0,384.1L230.5,377.6L231.0,370.4L231.5,363.2L232.0,355.1L232.5,348.3L233.0,341.3L233.5,334.6L234.0,328.8L234.5,323.2L235.0,318.5L235.5,313.9L236.0,313.1L236.5,315.3L237.0,318.4L237.5,321.8L238.0,325.1L238.5,328.9L239.0,333.0L239.5,339.1L240.0,345.4L240.5,352.1L241.0,358.1L241.5,365.0L242.0,371.3L242.5,377.6L243.0,382.9L243.5,388.0L244.0,392.6L244.5,397.2L245.0,401.0L245.5,404.5L246.0,407.6L246.5,410.3L247.0,412.3L247.5,414.1L248.0,415.5L248.5,416.7L249.0,417.6L249.5,418.4L250.0,419.0L250.5,419.5L251.0,419.8L251.5,420.1L252.0,420.3L252.5,420.4L253.0,420.5L253.5,420.8L263.0,420.8" fill="#6a9a64" fill-opacity="0.62" stroke="#2a9a50" stroke-width="0.9" stroke-linejoin="round"/>
<path d="M213.6,301V421" fill="none" stroke="#666" stroke-width="0.8"/>
<path d="M210.0,307.0H213.6M210.0,329.7H213.6M210.0,352.4H213.6M210.0,375.0H213.6M210.0,397.7H213.6M210.0,420.4H213.6" stroke="#222" stroke-width="1.2" fill="none"/>
<path d="M211.79999999999998,312.7H213.6M211.79999999999998,318.3H213.6M211.79999999999998,324.0H213.6M211.79999999999998,335.4H213.6M211.79999999999998,341.0H213.6M211.79999999999998,346.7H213.6M211.79999999999998,358.0H213.6M211.79999999999998,363.7H213.6M211.79999999999998,369.4H213.6M211.79999999999998,380.7H213.6M211.79999999999998,386.4H213.6M211.79999999999998,392.0H213.6M211.79999999999998,403.4H213.6M211.79999999999998,409.1H213.6M211.79999999999998,414.7H213.6" stroke="#333" stroke-width="0.7" fill="none"/>
<text x="206.7" y="308.4" font-size="4.0" fill="#2a2a2a" text-anchor="end" stroke="#2a2a2a" stroke-width="0.15">100</text>
<text x="206.7" y="331.1" font-size="4.0" fill="#2a2a2a" text-anchor="end" stroke="#2a2a2a" stroke-width="0.15">80</text>
<text x="206.7" y="353.8" font-size="4.0" fill="#2a2a2a" text-anchor="end" stroke="#2a2a2a" stroke-width="0.15">60</text>
<text x="206.7" y="376.4" font-size="4.0" fill="#2a2a2a" text-anchor="end" stroke="#2a2a2a" stroke-width="0.15">40</text>
<text x="206.7" y="399.1" font-size="4.0" fill="#2a2a2a" text-anchor="end" stroke="#2a2a2a" stroke-width="0.15">20</text>
<text x="206.7" y="421.8" font-size="4.0" fill="#2a2a2a" text-anchor="end" stroke="#2a2a2a" stroke-width="0.15">0</text>
<path d="M226.0,421v3.2M265.6,421v3.2M292.4,421v3.2M318.0,421v3.2" stroke="#000" stroke-width="1.2" fill="none"/>
<path d="M230.8,421v2M235.5,421v2M240.3,421v2M245.0,421v2M249.8,421v2M253.7,421v2M257.3,421v2M260.5,421v2M262.8,421v2M264.4,421v2M273.7,421v2M278.4,421v2M281.7,421v2M284.3,421v2M286.5,421v2M288.2,421v2M289.8,421v2M291.2,421v2M300.1,421v2M304.6,421v2M307.8,421v2M310.3,421v2M312.3,421v2M314.0,421v2M315.5,421v2M316.8,421v2M325.7,421v2M330.2,421v2M224.5,421v2M223.0,421v2M221.5,421v2M220.0,421v2M218.5,421v2M217.0,421v2" stroke="#000" stroke-width="0.9" fill="none"/>
<rect x="219.5" y="421" width="5" height="2.2" fill="#111"/>
<text x="226.0" y="430.0" font-size="4.1" fill="#222" text-anchor="middle">0</text>
<text x="265.8" y="430.0" font-size="4.1" fill="#222" text-anchor="middle">10<tspan dx="1" dy="-2" font-size="3.8">3</tspan></text>
<text x="292.6" y="430.0" font-size="4.1" fill="#222" text-anchor="middle">10<tspan dx="1" dy="-2" font-size="3.8">4</tspan></text>
<text x="318.2" y="430.0" font-size="4.1" fill="#222" text-anchor="middle">10<tspan dx="1" dy="-2" font-size="3.8">5</tspan></text>
<path d="M256.6,390.2H332M256.6,387.8v4.8M332,387.8v4.8" stroke="#222" stroke-width="1" fill="none"/>
<text x="252.4" y="314.6" font-size="9.5" fill="#1a1a1a" textLength="77" lengthAdjust="spacingAndGlyphs" stroke="#1a1a1a" stroke-width="0.18">mCB DNp53 MYC</text>
<text x="294.0" y="361.4" font-size="9.5" fill="#1a1a1a" textLength="27.4" lengthAdjust="spacingAndGlyphs" stroke="#1a1a1a" stroke-width="0.18">VSIG8</text>
<text x="294.0" y="373.0" font-size="9.5" fill="#1a1a1a" textLength="26.4" lengthAdjust="spacingAndGlyphs" stroke="#1a1a1a" stroke-width="0.18">61.8%</text>
<path d="M42.8,33V433.4H336" fill="none" stroke="#111" stroke-width="1.4"/>
<path d="M42.8,28.6l-2.8,5.6h5.6z" fill="#111"/>
<path d="M341.6,433.4l-6.8,-2.9v5.8z" fill="#111"/>
<text transform="translate(32.4,236.6) rotate(-90)" font-size="11.6" fill="#111" textLength="31" lengthAdjust="spacingAndGlyphs">Modal</text>
<text x="207.6" y="448.2" font-size="10.6" fill="#111" textLength="21.4" lengthAdjust="spacingAndGlyphs">APC</text>
<text x="366.2" y="18.8" font-size="15.5" fill="#111">(b)</text>
<text x="432.6" y="38.3" font-size="8.7" fill="#2a2a2a" textLength="17.6" lengthAdjust="spacingAndGlyphs" stroke="#2a2a2a" stroke-width="0.1">D283</text>
<text x="474.6" y="19.4" font-size="8.7" fill="#2a2a2a" text-anchor="middle" textLength="15.6" lengthAdjust="spacingAndGlyphs" stroke="#2a2a2a" stroke-width="0.1">mCB</text>
<text x="474.6" y="29.2" font-size="8.7" fill="#2a2a2a" text-anchor="middle" textLength="24" lengthAdjust="spacingAndGlyphs" stroke="#2a2a2a" stroke-width="0.1">DNp53</text>
<text x="474.6" y="38.9" font-size="8.7" fill="#2a2a2a" text-anchor="middle" textLength="15.6" lengthAdjust="spacingAndGlyphs" stroke="#2a2a2a" stroke-width="0.1">MYC</text>
<rect x="426.6" y="42.8" width="60.0" height="52.2" fill="url(#g1)"/>

<g clip-path="url(#c4266_428)"><clipPath id="c4266_428"><rect x="426.6" y="42.8" width="60.0" height="52.2"/></clipPath>
<rect x="433.0" y="79.3" width="20.4" height="5.4" rx="2.2" fill="#0a0a0a" opacity="1" filter="url(#bl)" transform="rotate(-2 443.2 82.0)"/>
<rect x="459.4" y="78.6" width="21.6" height="4.8" rx="2.2" fill="#0a0a0a" opacity="1" filter="url(#bl)" transform="rotate(-1 470.2 81.0)"/>
</g>
<rect x="426.6" y="42.8" width="60.0" height="52.2" fill="none" stroke="#3a3a3a" stroke-width="1.1"/>
<text x="413.6" y="75.6" font-size="9" fill="#1a1a1a" text-anchor="end" textLength="29.2" lengthAdjust="spacingAndGlyphs" stroke="#1a1a1a" stroke-width="0.12">100kDa</text>
<path d="M416.5,69.4L422.6,71.8L416.5,74.2L418.3,71.8Z" fill="#111"/>
<text x="413.6" y="88.4" font-size="9" fill="#1a1a1a" text-anchor="end" textLength="24.6" lengthAdjust="spacingAndGlyphs" stroke="#1a1a1a" stroke-width="0.12">75kDa</text>
<path d="M416.5,83.0L422.6,85.4L416.5,87.8L418.3,85.4Z" fill="#111"/>
<text x="489.4" y="84.6" font-size="9" fill="#1a1a1a" textLength="25.6" lengthAdjust="spacingAndGlyphs" stroke="#1a1a1a" stroke-width="0.12">HSP90</text>
<rect x="426.6" y="100.3" width="60.0" height="46.8" fill="url(#g2)"/>

<g clip-path="url(#c4266_1003)"><clipPath id="c4266_1003"><rect x="426.6" y="100.3" width="60.0" height="46.8"/></clipPath>
<rect x="434.0" y="117.7" width="19.6" height="3.1" rx="1.6" fill="#1c1c1c" opacity="0.95" filter="url(#bl)" transform="rotate(-2 443.8 119.2)"/>
<rect x="460.0" y="116.1" width="21.4" height="2.9" rx="1.4" fill="#1c1c1c" opacity="0.95" filter="url(#bl)" transform="rotate(-2 470.7 117.6)"/>
<rect x="435.0" y="108.0" width="18.0" height="5.0" rx="2.2" fill="#e4e4e4" opacity="0.3" filter="url(#bl)"/>
</g>
<rect x="426.6" y="100.3" width="60.0" height="46.8" fill="none" stroke="#3a3a3a" stroke-width="1.1"/>
<text x="414.0" y="123.0" font-size="9" fill="#1a1a1a" text-anchor="end" textLength="25" lengthAdjust="spacingAndGlyphs" stroke="#1a1a1a" stroke-width="0.12">50kDa</text>
<path d="M416.1,118.6L422.2,121.0L416.1,123.4L417.9,121.0Z" fill="#111"/>
<text x="414.0" y="141.0" font-size="9" fill="#1a1a1a" text-anchor="end" textLength="25" lengthAdjust="spacingAndGlyphs" stroke="#1a1a1a" stroke-width="0.12">37kDa</text>
<path d="M416.1,136.2L422.2,138.6L416.1,141.0L417.9,138.6Z" fill="#111"/>
<text x="489.4" y="119.6" font-size="9" fill="#1a1a1a" textLength="27.2" lengthAdjust="spacingAndGlyphs" stroke="#1a1a1a" stroke-width="0.12">VSIG-3</text>
<text x="489.4" y="131.2" font-size="9" fill="#1a1a1a" textLength="31.5" lengthAdjust="spacingAndGlyphs" stroke="#1a1a1a" stroke-width="0.12">(46 kDa)</text>
<text x="428.9" y="185.5" font-size="8.7" fill="#2a2a2a" textLength="17.6" lengthAdjust="spacingAndGlyphs" stroke="#2a2a2a" stroke-width="0.1">D283</text>
<text x="468.2" y="167.2" font-size="8.7" fill="#2a2a2a" text-anchor="middle" textLength="15.6" lengthAdjust="spacingAndGlyphs" stroke="#2a2a2a" stroke-width="0.1">mCB</text>
<text x="468.2" y="176.4" font-size="8.7" fill="#2a2a2a" text-anchor="middle" textLength="24" lengthAdjust="spacingAndGlyphs" stroke="#2a2a2a" stroke-width="0.1">DNp53</text>
<text x="468.2" y="185.6" font-size="8.7" fill="#2a2a2a" text-anchor="middle" textLength="15.6" lengthAdjust="spacingAndGlyphs" stroke="#2a2a2a" stroke-width="0.1">MYC</text>
<rect x="420.8" y="189.9" width="61.8" height="49.5" fill="url(#g1)"/>

<g clip-path="url(#c4208_1899)"><clipPath id="c4208_1899"><rect x="420.8" y="189.9" width="61.8" height="49.5"/></clipPath>
<rect x="429.3" y="221.1" width="20.0" height="5.0" rx="2.2" fill="#0a0a0a" opacity="1" filter="url(#bl)" transform="rotate(-5 439.3 223.6)"/>
<rect x="455.4" y="219.3" width="21.2" height="4.6" rx="2.2" fill="#0a0a0a" opacity="1" filter="url(#bl)" transform="rotate(-1 466.0 221.6)"/>
</g>
<rect x="420.8" y="189.9" width="61.8" height="49.5" fill="none" stroke="#3a3a3a" stroke-width="1.1"/>
<text x="411.6" y="221.3" font-size="9" fill="#1a1a1a" text-anchor="end" textLength="28.6" lengthAdjust="spacingAndGlyphs" stroke="#1a1a1a" stroke-width="0.12">100kDa</text>
<path d="M413.9,216.3L420.0,218.7L413.9,221.1L415.7,218.7Z" fill="#111"/>
<text x="411.6" y="232.5" font-size="9" fill="#1a1a1a" text-anchor="end" textLength="24" lengthAdjust="spacingAndGlyphs" stroke="#1a1a1a" stroke-width="0.12">75kDa</text>
<path d="M413.9,227.4L420.0,229.8L413.9,232.2L415.7,229.8Z" fill="#111"/>
<text x="485.0" y="223.0" font-size="8.8" fill="#1a1a1a" textLength="24" lengthAdjust="spacingAndGlyphs" stroke="#1a1a1a" stroke-width="0.12">HSP90</text>
<rect x="420.8" y="244.7" width="61.8" height="42.7" fill="url(#g4)"/>

<g clip-path="url(#c4208_2447)"><clipPath id="c4208_2447"><rect x="420.8" y="244.7" width="61.8" height="42.7"/></clipPath>
<rect x="426.6" y="268.5" width="21.2" height="3.4" rx="1.7" fill="#333" opacity="0.95" filter="url(#bl)" transform="rotate(-6 437.2 270.2)"/>
<rect x="427.0" y="270.9" width="20.4" height="3.0" rx="1.5" fill="#666" opacity="0.6" filter="url(#bl)" transform="rotate(-6 437.2 272.4)"/>
<rect x="454.6" y="264.6" width="20.8" height="2.8" rx="1.4" fill="#666" opacity="0.85" filter="url(#bl)" transform="rotate(-1 465.0 266.0)"/>
<rect x="428.0" y="259.6" width="19.0" height="1.8" rx="0.9" fill="#999" opacity="0.22" filter="url(#bl)"/>
<rect x="428.0" y="252.1" width="19.0" height="1.8" rx="0.9" fill="#999" opacity="0.15" filter="url(#bl)"/>
<rect x="456.0" y="252.1" width="19.0" height="1.8" rx="0.9" fill="#999" opacity="0.15" filter="url(#bl)"/>
<rect x="425.0" y="246.0" width="24.0" height="40.0" rx="2.2" fill="#bbb" opacity="0.18" filter="url(#bl)"/>
<rect x="454.0" y="246.0" width="23.0" height="40.0" rx="2.2" fill="#bbb" opacity="0.1" filter="url(#bl)"/>
</g>
<rect x="420.8" y="244.7" width="61.8" height="42.7" fill="none" stroke="#3a3a3a" stroke-width="1.1"/>
<text x="411.6" y="266.2" font-size="9" fill="#1a1a1a" text-anchor="end" textLength="24.6" lengthAdjust="spacingAndGlyphs" stroke="#1a1a1a" stroke-width="0.12">50kDa</text>
<path d="M413.9,261.5L420.0,263.9L413.9,266.3L415.7,263.9Z" fill="#111"/>
<text x="411.6" y="283.5" font-size="9" fill="#1a1a1a" text-anchor="end" textLength="24.6" lengthAdjust="spacingAndGlyphs" stroke="#1a1a1a" stroke-width="0.12">37kDa</text>
<path d="M413.9,278.8L420.0,281.2L413.9,283.6L415.7,281.2Z" fill="#111"/>
<text x="485.0" y="269.6" font-size="8.8" fill="#1a1a1a" textLength="24.4" lengthAdjust="spacingAndGlyphs" stroke="#1a1a1a" stroke-width="0.12">VSIG-8</text>
<text x="485.0" y="280.2" font-size="8.8" fill="#1a1a1a" textLength="27.4" lengthAdjust="spacingAndGlyphs" stroke="#1a1a1a" stroke-width="0.12">(44kDa)</text>
<text x="430.5" y="325.0" font-size="8.7" fill="#2a2a2a" textLength="17.6" lengthAdjust="spacingAndGlyphs" stroke="#2a2a2a" stroke-width="0.1">D283</text>
<text x="469.4" y="306.6" font-size="8.7" fill="#2a2a2a" text-anchor="middle" textLength="15.6" lengthAdjust="spacingAndGlyphs" stroke="#2a2a2a" stroke-width="0.1">mCB</text>
<text x="469.4" y="315.8" font-size="8.7" fill="#2a2a2a" text-anchor="middle" textLength="24" lengthAdjust="spacingAndGlyphs" stroke="#2a2a2a" stroke-width="0.1">DNp53</text>
<text x="469.4" y="325.0" font-size="8.7" fill="#2a2a2a" text-anchor="middle" textLength="15.6" lengthAdjust="spacingAndGlyphs" stroke="#2a2a2a" stroke-width="0.1">MYC</text>
<rect x="424" y="329.6" width="59.4" height="48.4" fill="url(#g1)"/>

<g clip-path="url(#c4240_3296)"><clipPath id="c4240_3296"><rect x="424" y="329.6" width="59.4" height="48.4"/></clipPath>
<rect x="432.2" y="360.6" width="23.0" height="5.6" rx="2.2" fill="#0a0a0a" opacity="1" filter="url(#bl)"/>
<rect x="460.0" y="360.7" width="23.4" height="5.4" rx="2.2" fill="#0a0a0a" opacity="1" filter="url(#bl)"/>
</g>
<rect x="424" y="329.6" width="59.4" height="48.4" fill="none" stroke="#3a3a3a" stroke-width="1.1"/>
<text x="411.9" y="360.4" font-size="9" fill="#1a1a1a" text-anchor="end" textLength="28.9" lengthAdjust="spacingAndGlyphs" stroke="#1a1a1a" stroke-width="0.12">100kDa</text>
<path d="M415.3,355.3L421.4,357.7L415.3,360.1L417.1,357.7Z" fill="#111"/>
<text x="411.9" y="371.8" font-size="9" fill="#1a1a1a" text-anchor="end" textLength="24" lengthAdjust="spacingAndGlyphs" stroke="#1a1a1a" stroke-width="0.12">75kDa</text>
<path d="M415.3,367.1L421.4,369.5L415.3,371.9L417.1,369.5Z" fill="#111"/>
<text x="489.4" y="366.0" font-size="8.8" fill="#1a1a1a" textLength="23.6" lengthAdjust="spacingAndGlyphs" stroke="#1a1a1a" stroke-width="0.12">HSP90</text>
<rect x="424.8" y="383.6" width="58.2" height="45.8" fill="url(#g6)"/>

<g clip-path="url(#c4248_3836)"><clipPath id="c4248_3836"><rect x="424.8" y="383.6" width="58.2" height="45.8"/></clipPath>
</g>
<rect x="424.8" y="383.6" width="58.2" height="45.8" fill="none" stroke="#555" stroke-width="1.1"/>
<text x="411.9" y="397.3" font-size="9" fill="#1a1a1a" text-anchor="end" textLength="24" lengthAdjust="spacingAndGlyphs" stroke="#1a1a1a" stroke-width="0.12">37kDa</text>
<path d="M415.3,392.6L421.4,395.0L415.3,397.4L417.1,395.0Z" fill="#111"/>
<text x="411.9" y="424.2" font-size="9" fill="#1a1a1a" text-anchor="end" textLength="24" lengthAdjust="spacingAndGlyphs" stroke="#1a1a1a" stroke-width="0.12">25kDa</text>
<path d="M415.3,419.5L421.4,421.9L415.3,424.3L417.1,421.9Z" fill="#111"/>
<text x="489.4" y="410.6" font-size="8.8" fill="#1a1a1a" textLength="21" lengthAdjust="spacingAndGlyphs" stroke="#1a1a1a" stroke-width="0.12">VISTA</text>
<text x="489.4" y="421.0" font-size="8.8" fill="#1a1a1a" textLength="31" lengthAdjust="spacingAndGlyphs" stroke="#1a1a1a" stroke-width="0.12">(29 kDa)</text>
<text x="9.6" y="465.6" font-size="15.5" fill="#111">(c)</text>
<path d="M23.6,506.3V611.7H134" fill="none" stroke="#111" stroke-width="1.25"/>
<text x="19.8" y="613.7" font-size="5.6" fill="#111" text-anchor="end" font-weight="bold">0</text>
<text x="19.8" y="587.4" font-size="5.6" fill="#111" text-anchor="end" font-weight="bold">2</text>
<text x="19.8" y="561.0" font-size="5.6" fill="#111" text-anchor="end" font-weight="bold">4</text>
<text x="19.8" y="534.6" font-size="5.6" fill="#111" text-anchor="end" font-weight="bold">6</text>
<text x="19.8" y="508.3" font-size="5.6" fill="#111" text-anchor="end" font-weight="bold">8</text>
<path d="M20.6,611.7H23.6M20.6,585.4H23.6M20.6,559.0H23.6M20.6,532.6H23.6M20.6,506.3H23.6M40.6,611.7v3M66.4,611.7v3M92,611.7v3M117.4,611.7v3" stroke="#111" stroke-width="1.25" fill="none"/>
<text transform="translate(42.2,618.3) rotate(-45)" font-size="5.7" font-weight="bold" fill="#1a1a1a" text-anchor="end">VISTA-Q1</text>
<text transform="translate(68.0,618.3) rotate(-45)" font-size="5.7" font-weight="bold" fill="#1a1a1a" text-anchor="end">VISTA-Q2</text>
<text transform="translate(93.6,618.3) rotate(-45)" font-size="5.7" font-weight="bold" fill="#1a1a1a" text-anchor="end">VISTA-Q3</text>
<text transform="translate(119.0,618.3) rotate(-45)" font-size="5.7" font-weight="bold" fill="#1a1a1a" text-anchor="end">VISTA-Q4</text>
<text transform="translate(13.6,559.0) rotate(-90)" font-size="6" font-weight="bold" fill="#1a1a1a" text-anchor="middle" textLength="36.5" lengthAdjust="spacingAndGlyphs">log2[TPM +1]</text>
<text x="63.2" y="495.6" font-size="11.6" fill="#111" textLength="32.2" lengthAdjust="spacingAndGlyphs">VSIG3</text>
<circle cx="34.4" cy="552.0" r="2.3" fill="#fff" stroke="#111" stroke-width="0.8"/>
<circle cx="40.6" cy="551.0" r="2.3" fill="#fff" stroke="#111" stroke-width="0.8"/>
<circle cx="47.0" cy="548.0" r="2.3" fill="#fff" stroke="#111" stroke-width="0.8"/>
<circle cx="40.6" cy="558.0" r="2.3" fill="#fff" stroke="#111" stroke-width="0.8"/>
<circle cx="40.6" cy="562.4" r="2.3" fill="#fff" stroke="#111" stroke-width="0.8"/>
<circle cx="37.6" cy="568.0" r="2.3" fill="#fff" stroke="#111" stroke-width="0.8"/>
<circle cx="44.0" cy="568.4" r="2.3" fill="#fff" stroke="#111" stroke-width="0.8"/>
<circle cx="40.6" cy="571.2" r="2.3" fill="#fff" stroke="#111" stroke-width="0.8"/>
<circle cx="34.4" cy="574.0" r="2.3" fill="#fff" stroke="#111" stroke-width="0.8"/>
<circle cx="47.0" cy="574.0" r="2.3" fill="#fff" stroke="#111" stroke-width="0.8"/>
<circle cx="40.6" cy="578.0" r="2.3" fill="#fff" stroke="#111" stroke-width="0.8"/>
<circle cx="40.6" cy="587.0" r="2.3" fill="#fff" stroke="#111" stroke-width="0.8"/>
<circle cx="44.0" cy="595.4" r="2.3" fill="#fff" stroke="#111" stroke-width="0.8"/>
<circle cx="37.6" cy="599.4" r="2.3" fill="#fff" stroke="#111" stroke-width="0.8"/>
<circle cx="66.4" cy="523.6" r="2.5" fill="#a9a9a9"/>
<circle cx="66.4" cy="529.0" r="2.5" fill="#a9a9a9"/>
<circle cx="66.4" cy="541.4" r="2.5" fill="#a9a9a9"/>
<circle cx="60.0" cy="547.6" r="2.5" fill="#a9a9a9"/>
<circle cx="66.4" cy="549.0" r="2.5" fill="#a9a9a9"/>
<circle cx="72.8" cy="546.0" r="2.5" fill="#a9a9a9"/>
<circle cx="66.4" cy="562.0" r="2.5" fill="#a9a9a9"/>
<circle cx="66.4" cy="568.0" r="2.5" fill="#a9a9a9"/>
<circle cx="66.4" cy="583.4" r="2.5" fill="#a9a9a9"/>
<circle cx="66.4" cy="591.0" r="2.5" fill="#a9a9a9"/>
<circle cx="66.4" cy="597.0" r="2.5" fill="#a9a9a9"/>
<circle cx="63.0" cy="604.0" r="2.5" fill="#a9a9a9"/>
<circle cx="69.4" cy="602.0" r="2.5" fill="#a9a9a9"/>
<circle cx="85.6" cy="519.6" r="2.5" fill="#777"/>
<circle cx="98.4" cy="519.0" r="2.5" fill="#777"/>
<circle cx="92.0" cy="541.0" r="2.5" fill="#777"/>
<circle cx="85.6" cy="551.6" r="2.5" fill="#777"/>
<circle cx="98.4" cy="548.0" r="2.5" fill="#777"/>
<circle cx="98.4" cy="554.0" r="2.5" fill="#777"/>
<circle cx="85.6" cy="571.6" r="2.5" fill="#777"/>
<circle cx="98.4" cy="573.6" r="2.5" fill="#777"/>
<circle cx="85.6" cy="583.4" r="2.5" fill="#777"/>
<circle cx="98.4" cy="583.4" r="2.5" fill="#777"/>
<circle cx="85.6" cy="589.0" r="2.5" fill="#777"/>
<circle cx="98.4" cy="591.0" r="2.5" fill="#777"/>
<circle cx="92.0" cy="596.6" r="2.5" fill="#777"/>
<circle cx="117.4" cy="527.0" r="2.5" fill="#000"/>
<circle cx="117.4" cy="531.6" r="2.5" fill="#000"/>
<circle cx="111.0" cy="545.4" r="2.5" fill="#000"/>
<circle cx="123.8" cy="545.0" r="2.5" fill="#000"/>
<circle cx="117.4" cy="548.0" r="2.5" fill="#000"/>
<circle cx="120.6" cy="557.0" r="2.5" fill="#000"/>
<circle cx="114.2" cy="561.0" r="2.5" fill="#000"/>
<circle cx="117.4" cy="567.0" r="2.5" fill="#000"/>
<circle cx="117.4" cy="574.0" r="2.5" fill="#000"/>
<circle cx="123.8" cy="584.6" r="2.5" fill="#000"/>
<circle cx="117.4" cy="588.4" r="2.5" fill="#000"/>
<circle cx="120.6" cy="598.0" r="2.5" fill="#000"/>
<circle cx="114.2" cy="601.0" r="2.5" fill="#000"/>
<path d="M32.2,570.4h16.8M40.6,566.0V575.0M36.2,566.0h8.8M36.2,575.0h8.8M58.0,564.6h16.8M66.4,557.4V572.6M62.0,557.4h8.8M62.0,572.6h8.8M83.6,563.2h16.8M92.0,556.0V570.4M87.6,556.0h8.8M87.6,570.4h8.8M109.0,563.6h16.8M117.4,557.0V570.0M113.0,557.0h8.8M113.0,570.0h8.8" stroke="#1a1a1a" stroke-width="0.85" fill="none"/>
<path d="M158.4,505.6V610.6H269" fill="none" stroke="#111" stroke-width="1.25"/>
<text x="154.6" y="612.6" font-size="5.6" fill="#111" text-anchor="end" font-weight="bold">0</text>
<text x="154.6" y="591.6" font-size="5.6" fill="#111" text-anchor="end" font-weight="bold">1</text>
<text x="154.6" y="570.6" font-size="5.6" fill="#111" text-anchor="end" font-weight="bold">2</text>
<text x="154.6" y="549.6" font-size="5.6" fill="#111" text-anchor="end" font-weight="bold">3</text>
<text x="154.6" y="528.6" font-size="5.6" fill="#111" text-anchor="end" font-weight="bold">4</text>
<text x="154.6" y="507.6" font-size="5.6" fill="#111" text-anchor="end" font-weight="bold">5</text>
<path d="M155.4,610.6H158.4M155.4,589.6H158.4M155.4,568.6H158.4M155.4,547.6H158.4M155.4,526.6H158.4M155.4,505.6H158.4M175.6,610.6v3M201.4,610.6v3M227,610.6v3M252.4,610.6v3" stroke="#111" stroke-width="1.25" fill="none"/>
<text transform="translate(177.2,617.2) rotate(-45)" font-size="5.7" font-weight="bold" fill="#1a1a1a" text-anchor="end">VISTA-Q1</text>
<text transform="translate(203.0,617.2) rotate(-45)" font-size="5.7" font-weight="bold" fill="#1a1a1a" text-anchor="end">VISTA-Q2</text>
<text transform="translate(228.6,617.2) rotate(-45)" font-size="5.7" font-weight="bold" fill="#1a1a1a" text-anchor="end">VISTA-Q3</text>
<text transform="translate(254.0,617.2) rotate(-45)" font-size="5.7" font-weight="bold" fill="#1a1a1a" text-anchor="end">VISTA-Q4</text>
<text transform="translate(148,558.1) rotate(-90)" font-size="6" font-weight="bold" fill="#1a1a1a" text-anchor="middle" textLength="36.5" lengthAdjust="spacingAndGlyphs">log2[TPM +1]</text>
<text x="197.8" y="495.6" font-size="11.6" fill="#111" textLength="33" lengthAdjust="spacingAndGlyphs">VSIG8</text>
<circle cx="175.6" cy="565.6" r="2.3" fill="#fff" stroke="#111" stroke-width="0.8"/>
<circle cx="175.6" cy="591.0" r="2.3" fill="#fff" stroke="#111" stroke-width="0.8"/>
<circle cx="172.4" cy="602.0" r="2.3" fill="#fff" stroke="#111" stroke-width="0.8"/>
<circle cx="177.6" cy="602.0" r="2.3" fill="#fff" stroke="#111" stroke-width="0.8"/>
<circle cx="181.6" cy="602.0" r="2.3" fill="#fff" stroke="#111" stroke-width="0.8"/>
<circle cx="169.6" cy="606.0" r="2.3" fill="#fff" stroke="#111" stroke-width="0.8"/>
<circle cx="174.4" cy="606.0" r="2.3" fill="#fff" stroke="#111" stroke-width="0.8"/>
<circle cx="179.4" cy="606.0" r="2.3" fill="#fff" stroke="#111" stroke-width="0.8"/>
<circle cx="183.0" cy="606.0" r="2.3" fill="#fff" stroke="#111" stroke-width="0.8"/>
<circle cx="169.6" cy="609.4" r="2.3" fill="#fff" stroke="#111" stroke-width="0.8"/>
<circle cx="175.0" cy="609.4" r="2.3" fill="#fff" stroke="#111" stroke-width="0.8"/>
<circle cx="180.0" cy="609.4" r="2.3" fill="#fff" stroke="#111" stroke-width="0.8"/>
<circle cx="176.6" cy="599.0" r="2.3" fill="#fff" stroke="#111" stroke-width="0.8"/>
<circle cx="201.4" cy="578.6" r="2.5" fill="#a9a9a9"/>
<circle cx="201.4" cy="583.6" r="2.5" fill="#a9a9a9"/>
<circle cx="201.4" cy="595.0" r="2.5" fill="#a9a9a9"/>
<circle cx="198.0" cy="602.0" r="2.5" fill="#a9a9a9"/>
<circle cx="204.4" cy="602.0" r="2.5" fill="#a9a9a9"/>
<circle cx="196.0" cy="606.0" r="2.5" fill="#a9a9a9"/>
<circle cx="201.4" cy="606.0" r="2.5" fill="#a9a9a9"/>
<circle cx="207.0" cy="606.0" r="2.5" fill="#a9a9a9"/>
<circle cx="199.0" cy="609.0" r="2.5" fill="#a9a9a9"/>
<circle cx="204.0" cy="609.0" r="2.5" fill="#a9a9a9"/>
<circle cx="201.4" cy="610.0" r="2.5" fill="#a9a9a9"/>
<circle cx="196.4" cy="609.2" r="2.5" fill="#a9a9a9"/>
<circle cx="208.0" cy="603.6" r="2.5" fill="#a9a9a9"/>
<circle cx="220.6" cy="590.0" r="2.5" fill="#777"/>
<circle cx="225.0" cy="591.0" r="2.5" fill="#777"/>
<circle cx="229.4" cy="592.0" r="2.5" fill="#777"/>
<circle cx="233.6" cy="591.6" r="2.5" fill="#777"/>
<circle cx="220.6" cy="596.0" r="2.5" fill="#777"/>
<circle cx="225.0" cy="596.0" r="2.5" fill="#777"/>
<circle cx="229.4" cy="597.0" r="2.5" fill="#777"/>
<circle cx="233.6" cy="597.0" r="2.5" fill="#777"/>
<circle cx="220.6" cy="601.0" r="2.5" fill="#777"/>
<circle cx="225.0" cy="601.0" r="2.5" fill="#777"/>
<circle cx="229.4" cy="602.0" r="2.5" fill="#777"/>
<circle cx="233.6" cy="602.0" r="2.5" fill="#777"/>
<circle cx="220.6" cy="606.0" r="2.5" fill="#777"/>
<circle cx="225.0" cy="607.0" r="2.5" fill="#777"/>
<circle cx="229.4" cy="606.0" r="2.5" fill="#777"/>
<circle cx="233.6" cy="605.0" r="2.5" fill="#777"/>
<circle cx="252.4" cy="527.0" r="2.5" fill="#000"/>
<circle cx="252.4" cy="561.0" r="2.5" fill="#000"/>
<circle cx="252.4" cy="582.0" r="2.5" fill="#000"/>
<circle cx="246.0" cy="590.0" r="2.5" fill="#000"/>
<circle cx="252.4" cy="591.0" r="2.5" fill="#000"/>
<circle cx="254.4" cy="590.0" r="2.5" fill="#000"/>
<circle cx="249.0" cy="594.0" r="2.5" fill="#000"/>
<circle cx="259.0" cy="597.0" r="2.5" fill="#000"/>
<circle cx="246.0" cy="601.0" r="2.5" fill="#000"/>
<circle cx="252.4" cy="601.0" r="2.5" fill="#000"/>
<circle cx="259.0" cy="602.0" r="2.5" fill="#000"/>
<circle cx="246.0" cy="607.0" r="2.5" fill="#000"/>
<circle cx="250.4" cy="607.0" r="2.5" fill="#000"/>
<circle cx="254.4" cy="607.0" r="2.5" fill="#000"/>
<path d="M167.2,602.0h16.8M175.6,598.0V606.0M171.2,598.0h8.8M171.2,606.0h8.8M193.0,601.4h16.8M201.4,598.0V605.0M197.0,598.0h8.8M197.0,605.0h8.8M218.6,598.0h16.8M227.0,596.0V600.0M222.6,596.0h8.8M222.6,600.0h8.8M244.0,588.4h16.8M252.4,582.0V595.0M248.0,582.0h8.8M248.0,595.0h8.8" stroke="#1a1a1a" stroke-width="0.85" fill="none"/>
<path d="M176.4,517H254" stroke="#161616" stroke-width="1.1"/>
<text x="214.6" y="515.5" font-size="6.6" fill="#111" text-anchor="middle" font-weight="bold" stroke="#111" stroke-width="0.4" stroke-linejoin="round">*</text>
<path d="M297.6,505V610.6H407" fill="none" stroke="#111" stroke-width="1.25"/>
<text x="293.8" y="612.6" font-size="5.6" fill="#111" text-anchor="end" font-weight="bold">0</text>
<text x="293.8" y="591.5" font-size="5.6" fill="#111" text-anchor="end" font-weight="bold">1</text>
<text x="293.8" y="570.4" font-size="5.6" fill="#111" text-anchor="end" font-weight="bold">2</text>
<text x="293.8" y="549.2" font-size="5.6" fill="#111" text-anchor="end" font-weight="bold">3</text>
<text x="293.8" y="528.1" font-size="5.6" fill="#111" text-anchor="end" font-weight="bold">4</text>
<text x="293.8" y="507.0" font-size="5.6" fill="#111" text-anchor="end" font-weight="bold">5</text>
<path d="M294.6,610.6H297.6M294.6,589.5H297.6M294.6,568.4H297.6M294.6,547.2H297.6M294.6,526.1H297.6M294.6,505.0H297.6M315,610.6v3M340.4,610.6v3M366,610.6v3M391.6,610.6v3" stroke="#111" stroke-width="1.25" fill="none"/>
<text transform="translate(316.6,617.2) rotate(-45)" font-size="5.7" font-weight="bold" fill="#1a1a1a" text-anchor="end">VISTA-Q1</text>
<text transform="translate(342.0,617.2) rotate(-45)" font-size="5.7" font-weight="bold" fill="#1a1a1a" text-anchor="end">VISTA-Q2</text>
<text transform="translate(367.6,617.2) rotate(-45)" font-size="5.7" font-weight="bold" fill="#1a1a1a" text-anchor="end">VISTA-Q3</text>
<text transform="translate(393.2,617.2) rotate(-45)" font-size="5.7" font-weight="bold" fill="#1a1a1a" text-anchor="end">VISTA-Q4</text>
<text transform="translate(288,557.8) rotate(-90)" font-size="6" font-weight="bold" fill="#1a1a1a" text-anchor="middle" textLength="36.5" lengthAdjust="spacingAndGlyphs">log2[TPM +1]</text>
<text x="336.2" y="495.6" font-size="11.6" fill="#111" textLength="34" lengthAdjust="spacingAndGlyphs">PSGL1</text>
<circle cx="315.0" cy="558.0" r="2.3" fill="#fff" stroke="#111" stroke-width="0.8"/>
<circle cx="315.0" cy="566.0" r="2.3" fill="#fff" stroke="#111" stroke-width="0.8"/>
<circle cx="315.0" cy="573.6" r="2.3" fill="#fff" stroke="#111" stroke-width="0.8"/>
<circle cx="315.0" cy="579.0" r="2.3" fill="#fff" stroke="#111" stroke-width="0.8"/>
<circle cx="315.0" cy="584.4" r="2.3" fill="#fff" stroke="#111" stroke-width="0.8"/>
<circle cx="311.0" cy="592.0" r="2.3" fill="#fff" stroke="#111" stroke-width="0.8"/>
<circle cx="318.0" cy="592.0" r="2.3" fill="#fff" stroke="#111" stroke-width="0.8"/>
<circle cx="309.0" cy="596.0" r="2.3" fill="#fff" stroke="#111" stroke-width="0.8"/>
<circle cx="315.0" cy="596.0" r="2.3" fill="#fff" stroke="#111" stroke-width="0.8"/>
<circle cx="320.0" cy="596.0" r="2.3" fill="#fff" stroke="#111" stroke-width="0.8"/>
<circle cx="309.0" cy="601.4" r="2.3" fill="#fff" stroke="#111" stroke-width="0.8"/>
<circle cx="315.0" cy="600.4" r="2.3" fill="#fff" stroke="#111" stroke-width="0.8"/>
<circle cx="321.4" cy="601.0" r="2.3" fill="#fff" stroke="#111" stroke-width="0.8"/>
<circle cx="315.0" cy="607.6" r="2.3" fill="#fff" stroke="#111" stroke-width="0.8"/>
<circle cx="339.0" cy="569.0" r="2.5" fill="#a9a9a9"/>
<circle cx="343.0" cy="566.6" r="2.5" fill="#a9a9a9"/>
<circle cx="339.0" cy="576.0" r="2.5" fill="#a9a9a9"/>
<circle cx="343.0" cy="578.0" r="2.5" fill="#a9a9a9"/>
<circle cx="347.0" cy="577.4" r="2.5" fill="#a9a9a9"/>
<circle cx="335.0" cy="583.0" r="2.5" fill="#a9a9a9"/>
<circle cx="339.0" cy="582.0" r="2.5" fill="#a9a9a9"/>
<circle cx="343.0" cy="583.0" r="2.5" fill="#a9a9a9"/>
<circle cx="347.0" cy="583.0" r="2.5" fill="#a9a9a9"/>
<circle cx="335.0" cy="586.4" r="2.5" fill="#a9a9a9"/>
<circle cx="339.0" cy="590.0" r="2.5" fill="#a9a9a9"/>
<circle cx="343.0" cy="589.0" r="2.5" fill="#a9a9a9"/>
<circle cx="339.0" cy="597.0" r="2.5" fill="#a9a9a9"/>
<circle cx="343.0" cy="594.0" r="2.5" fill="#a9a9a9"/>
<circle cx="360.0" cy="560.6" r="2.5" fill="#777"/>
<circle cx="364.0" cy="559.4" r="2.5" fill="#777"/>
<circle cx="368.4" cy="557.6" r="2.5" fill="#777"/>
<circle cx="372.6" cy="557.4" r="2.5" fill="#777"/>
<circle cx="360.0" cy="565.0" r="2.5" fill="#777"/>
<circle cx="364.0" cy="565.0" r="2.5" fill="#777"/>
<circle cx="372.6" cy="565.0" r="2.5" fill="#777"/>
<circle cx="360.0" cy="569.0" r="2.5" fill="#777"/>
<circle cx="366.0" cy="568.0" r="2.5" fill="#777"/>
<circle cx="372.6" cy="568.0" r="2.5" fill="#777"/>
<circle cx="360.0" cy="572.4" r="2.5" fill="#777"/>
<circle cx="364.0" cy="573.0" r="2.5" fill="#777"/>
<circle cx="370.0" cy="571.0" r="2.5" fill="#777"/>
<circle cx="366.0" cy="579.6" r="2.5" fill="#777"/>
<circle cx="366.0" cy="597.4" r="2.5" fill="#777"/>
<circle cx="389.6" cy="523.4" r="2.5" fill="#000"/>
<circle cx="394.0" cy="525.6" r="2.5" fill="#000"/>
<circle cx="394.0" cy="545.6" r="2.5" fill="#000"/>
<circle cx="389.6" cy="549.0" r="2.5" fill="#000"/>
<circle cx="394.0" cy="554.4" r="2.5" fill="#000"/>
<circle cx="385.0" cy="557.6" r="2.5" fill="#000"/>
<circle cx="389.6" cy="557.0" r="2.5" fill="#000"/>
<circle cx="394.0" cy="557.6" r="2.5" fill="#000"/>
<circle cx="394.0" cy="561.0" r="2.5" fill="#000"/>
<circle cx="391.6" cy="569.0" r="2.5" fill="#000"/>
<circle cx="391.6" cy="575.0" r="2.5" fill="#000"/>
<circle cx="391.6" cy="584.4" r="2.5" fill="#000"/>
<circle cx="391.6" cy="592.0" r="2.5" fill="#000"/>
<path d="M306.6,588.4h16.8M315.0,584.0V593.0M310.6,584.0h8.8M310.6,593.0h8.8M332.6,582.6h16.8M341.0,580.0V585.2M336.6,580.0h8.8M336.6,585.2h8.8M357.6,568.4h16.8M366.0,566.0V571.0M361.6,566.0h8.8M361.6,571.0h8.8M383.2,557.6h16.8M391.6,552.4V563.0M387.2,552.4h8.8M387.2,563.0h8.8" stroke="#1a1a1a" stroke-width="0.85" fill="none"/>
<path d="M339,506H394" stroke="#161616" stroke-width="1.1"/>
<text x="366.0" y="504.5" font-size="6.6" fill="#111" text-anchor="middle" font-weight="bold" stroke="#111" stroke-width="0.4" stroke-linejoin="round">**</text>
<path d="M312,517H394" stroke="#161616" stroke-width="1.1"/>
<text x="353.0" y="515.5" font-size="6.6" fill="#111" text-anchor="middle" font-weight="bold" stroke="#111" stroke-width="0.4" stroke-linejoin="round">**</text>
<path d="M343,527H372.4" stroke="#161616" stroke-width="1.1"/>
<text x="358.0" y="525.9" font-size="6.6" fill="#111" text-anchor="middle" font-weight="bold" stroke="#111" stroke-width="0.4" stroke-linejoin="round">**</text>
<path d="M312,539H372.4" stroke="#161616" stroke-width="1.1"/>
<text x="342.4" y="537.9" font-size="6.6" fill="#111" text-anchor="middle" font-weight="bold" stroke="#111" stroke-width="0.4" stroke-linejoin="round">*</text>
<path d="M434,505V610H543" fill="none" stroke="#111" stroke-width="1.25"/>
<text x="430.2" y="612.0" font-size="5.6" fill="#111" text-anchor="end" font-weight="bold">0</text>
<text x="430.2" y="585.8" font-size="5.6" fill="#111" text-anchor="end" font-weight="bold">2</text>
<text x="430.2" y="559.5" font-size="5.6" fill="#111" text-anchor="end" font-weight="bold">4</text>
<text x="430.2" y="533.2" font-size="5.6" fill="#111" text-anchor="end" font-weight="bold">6</text>
<text x="430.2" y="507.0" font-size="5.6" fill="#111" text-anchor="end" font-weight="bold">8</text>
<path d="M431,610.0H434M431,583.8H434M431,557.5H434M431,531.2H434M431,505.0H434M452,610v3M477.6,610v3M503,610v3M528.6,610v3" stroke="#111" stroke-width="1.25" fill="none"/>
<text transform="translate(453.6,616.6) rotate(-45)" font-size="5.7" font-weight="bold" fill="#1a1a1a" text-anchor="end">VISTA-Q1</text>
<text transform="translate(479.2,616.6) rotate(-45)" font-size="5.7" font-weight="bold" fill="#1a1a1a" text-anchor="end">VISTA-Q2</text>
<text transform="translate(504.6,616.6) rotate(-45)" font-size="5.7" font-weight="bold" fill="#1a1a1a" text-anchor="end">VISTA-Q3</text>
<text transform="translate(530.2,616.6) rotate(-45)" font-size="5.7" font-weight="bold" fill="#1a1a1a" text-anchor="end">VISTA-Q4</text>
<text transform="translate(424,557.5) rotate(-90)" font-size="6" font-weight="bold" fill="#1a1a1a" text-anchor="middle" textLength="36.5" lengthAdjust="spacingAndGlyphs">log2[TPM +1]</text>
<text x="474.6" y="495.4" font-size="11.6" fill="#111" textLength="31.6" lengthAdjust="spacingAndGlyphs">LRIG1</text>
<circle cx="445.4" cy="542.0" r="2.3" fill="#fff" stroke="#111" stroke-width="0.8"/>
<circle cx="451.6" cy="544.4" r="2.3" fill="#fff" stroke="#111" stroke-width="0.8"/>
<circle cx="458.0" cy="542.4" r="2.3" fill="#fff" stroke="#111" stroke-width="0.8"/>
<circle cx="458.0" cy="548.6" r="2.3" fill="#fff" stroke="#111" stroke-width="0.8"/>
<circle cx="451.6" cy="552.4" r="2.3" fill="#fff" stroke="#111" stroke-width="0.8"/>
<circle cx="445.4" cy="556.0" r="2.3" fill="#fff" stroke="#111" stroke-width="0.8"/>
<circle cx="445.4" cy="559.6" r="2.3" fill="#fff" stroke="#111" stroke-width="0.8"/>
<circle cx="451.6" cy="559.0" r="2.3" fill="#fff" stroke="#111" stroke-width="0.8"/>
<circle cx="458.0" cy="559.0" r="2.3" fill="#fff" stroke="#111" stroke-width="0.8"/>
<circle cx="451.6" cy="570.0" r="2.3" fill="#fff" stroke="#111" stroke-width="0.8"/>
<circle cx="451.6" cy="583.6" r="2.3" fill="#fff" stroke="#111" stroke-width="0.8"/>
<circle cx="451.6" cy="589.4" r="2.3" fill="#fff" stroke="#111" stroke-width="0.8"/>
<circle cx="452.0" cy="605.4" r="2.3" fill="#fff" stroke="#111" stroke-width="0.8"/>
<circle cx="477.4" cy="519.0" r="2.5" fill="#a9a9a9"/>
<circle cx="471.0" cy="530.0" r="2.5" fill="#a9a9a9"/>
<circle cx="477.4" cy="532.0" r="2.5" fill="#a9a9a9"/>
<circle cx="474.0" cy="539.4" r="2.5" fill="#a9a9a9"/>
<circle cx="480.0" cy="539.4" r="2.5" fill="#a9a9a9"/>
<circle cx="471.0" cy="549.6" r="2.5" fill="#a9a9a9"/>
<circle cx="477.4" cy="546.0" r="2.5" fill="#a9a9a9"/>
<circle cx="483.4" cy="545.4" r="2.5" fill="#a9a9a9"/>
<circle cx="477.4" cy="551.0" r="2.5" fill="#a9a9a9"/>
<circle cx="471.0" cy="562.4" r="2.5" fill="#a9a9a9"/>
<circle cx="483.4" cy="565.0" r="2.5" fill="#a9a9a9"/>
<circle cx="477.4" cy="567.0" r="2.5" fill="#a9a9a9"/>
<circle cx="477.4" cy="597.0" r="2.5" fill="#a9a9a9"/>
<circle cx="503.0" cy="533.6" r="2.5" fill="#777"/>
<circle cx="501.0" cy="540.0" r="2.5" fill="#777"/>
<circle cx="505.0" cy="541.0" r="2.5" fill="#777"/>
<circle cx="509.4" cy="541.4" r="2.5" fill="#777"/>
<circle cx="497.0" cy="545.6" r="2.5" fill="#777"/>
<circle cx="501.0" cy="545.6" r="2.5" fill="#777"/>
<circle cx="509.4" cy="546.4" r="2.5" fill="#777"/>
<circle cx="505.0" cy="547.0" r="2.5" fill="#777"/>
<circle cx="499.0" cy="550.0" r="2.5" fill="#777"/>
<circle cx="509.4" cy="550.0" r="2.5" fill="#777"/>
<circle cx="503.0" cy="554.0" r="2.5" fill="#777"/>
<circle cx="505.0" cy="556.4" r="2.5" fill="#777"/>
<circle cx="501.0" cy="562.4" r="2.5" fill="#777"/>
<circle cx="505.0" cy="563.0" r="2.5" fill="#777"/>
<circle cx="503.0" cy="569.0" r="2.5" fill="#777"/>
<circle cx="528.6" cy="513.0" r="2.5" fill="#000"/>
<circle cx="526.4" cy="522.4" r="2.5" fill="#000"/>
<circle cx="522.0" cy="526.6" r="2.5" fill="#000"/>
<circle cx="526.4" cy="528.6" r="2.5" fill="#000"/>
<circle cx="530.6" cy="528.6" r="2.5" fill="#000"/>
<circle cx="535.0" cy="526.6" r="2.5" fill="#000"/>
<circle cx="528.6" cy="534.0" r="2.5" fill="#000"/>
<circle cx="526.4" cy="538.4" r="2.5" fill="#000"/>
<circle cx="530.6" cy="541.0" r="2.5" fill="#000"/>
<circle cx="526.4" cy="544.4" r="2.5" fill="#000"/>
<circle cx="528.6" cy="551.0" r="2.5" fill="#000"/>
<circle cx="530.6" cy="555.0" r="2.5" fill="#000"/>
<circle cx="526.4" cy="558.0" r="2.5" fill="#000"/>
<path d="M443.6,562.4h16.8M452.0,557.0V567.6M447.6,557.0h8.8M447.6,567.6h8.8M469.2,549.6h16.8M477.6,543.6V555.4M473.2,543.6h8.8M473.2,555.4h8.8M494.6,550.0h16.8M503.0,547.4V552.4M498.6,547.4h8.8M498.6,552.4h8.8M520.2,536.0h16.8M528.6,533.0V539.0M524.2,533.0h8.8M524.2,539.0h8.8" stroke="#1a1a1a" stroke-width="0.85" fill="none"/>
<path d="M453,506.8H525.6" stroke="#161616" stroke-width="1.1"/>
<text x="489.6" y="505.3" font-size="6.6" fill="#111" text-anchor="middle" font-weight="bold" stroke="#111" stroke-width="0.4" stroke-linejoin="round">*</text>
<path d="M501,499H525.6" stroke="#161616" stroke-width="1.1"/>
<text x="513.6" y="497.9" font-size="6.6" fill="#111" text-anchor="middle" font-weight="bold" stroke="#111" stroke-width="0.4" stroke-linejoin="round">*</text>
</svg>
</body></html>
